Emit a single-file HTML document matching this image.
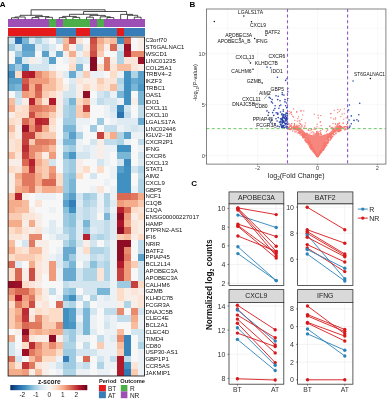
<!DOCTYPE html>
<html><head><meta charset="utf-8"><title>Figure</title>
<style>html,body{margin:0;padding:0;background:#fff;}body{width:387px;height:400px;overflow:hidden;}svg{display:block;}</style>
</head><body>
<svg width="387" height="400" viewBox="0 0 387 400"><g shape-rendering="crispEdges">
<rect x="8.10" y="37.00" width="6.87" height="6.83" fill="#d3e6f0"/>
<rect x="14.92" y="37.00" width="6.87" height="6.83" fill="#2b73b3"/>
<rect x="21.74" y="37.00" width="6.87" height="6.83" fill="#7ab6d6"/>
<rect x="28.56" y="37.00" width="6.87" height="6.83" fill="#dfebf3"/>
<rect x="35.38" y="37.00" width="6.87" height="6.83" fill="#afd4e6"/>
<rect x="42.20" y="37.00" width="6.87" height="6.83" fill="#dfebf3"/>
<rect x="49.02" y="37.00" width="6.87" height="6.83" fill="#f7f7f7"/>
<rect x="55.84" y="37.00" width="6.87" height="6.83" fill="#c1ddeb"/>
<rect x="62.66" y="37.00" width="6.87" height="6.83" fill="#f8bc9f"/>
<rect x="69.48" y="37.00" width="6.87" height="6.83" fill="#cd4d44"/>
<rect x="76.30" y="37.00" width="6.87" height="6.83" fill="#fbe5d8"/>
<rect x="83.12" y="37.00" width="6.87" height="6.83" fill="#f7f7f7"/>
<rect x="89.94" y="37.00" width="6.87" height="6.83" fill="#cd4d44"/>
<rect x="96.76" y="37.00" width="6.87" height="6.83" fill="#f5ac8b"/>
<rect x="103.58" y="37.00" width="6.87" height="6.83" fill="#faccb4"/>
<rect x="110.40" y="37.00" width="6.87" height="6.83" fill="#f8bc9f"/>
<rect x="117.22" y="37.00" width="6.87" height="6.83" fill="#4190c2"/>
<rect x="124.04" y="37.00" width="6.87" height="6.83" fill="#da6954"/>
<rect x="130.86" y="37.00" width="6.87" height="6.83" fill="#f7f7f7"/>
<rect x="137.68" y="37.00" width="6.87" height="6.83" fill="#f9eee7"/>
<rect x="8.10" y="43.78" width="6.87" height="6.83" fill="#9ecbe1"/>
<rect x="14.92" y="43.78" width="6.87" height="6.83" fill="#d3e6f0"/>
<rect x="21.74" y="43.78" width="6.87" height="6.83" fill="#59a1cb"/>
<rect x="28.56" y="43.78" width="6.87" height="6.83" fill="#59a1cb"/>
<rect x="35.38" y="43.78" width="6.87" height="6.83" fill="#dfebf3"/>
<rect x="42.20" y="43.78" width="6.87" height="6.83" fill="#c1ddeb"/>
<rect x="49.02" y="43.78" width="6.87" height="6.83" fill="#dfebf3"/>
<rect x="55.84" y="43.78" width="6.87" height="6.83" fill="#f7f7f7"/>
<rect x="62.66" y="43.78" width="6.87" height="6.83" fill="#f5ac8b"/>
<rect x="69.48" y="43.78" width="6.87" height="6.83" fill="#f9eee7"/>
<rect x="76.30" y="43.78" width="6.87" height="6.83" fill="#c1ddeb"/>
<rect x="83.12" y="43.78" width="6.87" height="6.83" fill="#f9eee7"/>
<rect x="89.94" y="43.78" width="6.87" height="6.83" fill="#d35b4b"/>
<rect x="96.76" y="43.78" width="6.87" height="6.83" fill="#f8bc9f"/>
<rect x="103.58" y="43.78" width="6.87" height="6.83" fill="#f9eee7"/>
<rect x="110.40" y="43.78" width="6.87" height="6.83" fill="#da6954"/>
<rect x="117.22" y="43.78" width="6.87" height="6.83" fill="#d3e6f0"/>
<rect x="124.04" y="43.78" width="6.87" height="6.83" fill="#9d1128"/>
<rect x="130.86" y="43.78" width="6.87" height="6.83" fill="#f7f7f7"/>
<rect x="137.68" y="43.78" width="6.87" height="6.83" fill="#f9eee7"/>
<rect x="8.10" y="50.56" width="6.87" height="6.83" fill="#f7f7f7"/>
<rect x="14.92" y="50.56" width="6.87" height="6.83" fill="#9ecbe1"/>
<rect x="21.74" y="50.56" width="6.87" height="6.83" fill="#69abd0"/>
<rect x="28.56" y="50.56" width="6.87" height="6.83" fill="#69abd0"/>
<rect x="35.38" y="50.56" width="6.87" height="6.83" fill="#f7f7f7"/>
<rect x="42.20" y="50.56" width="6.87" height="6.83" fill="#59a1cb"/>
<rect x="49.02" y="50.56" width="6.87" height="6.83" fill="#ebf1f5"/>
<rect x="55.84" y="50.56" width="6.87" height="6.83" fill="#69abd0"/>
<rect x="62.66" y="50.56" width="6.87" height="6.83" fill="#f9eee7"/>
<rect x="69.48" y="50.56" width="6.87" height="6.83" fill="#f5ac8b"/>
<rect x="76.30" y="50.56" width="6.87" height="6.83" fill="#ebf1f5"/>
<rect x="83.12" y="50.56" width="6.87" height="6.83" fill="#fddcc8"/>
<rect x="89.94" y="50.56" width="6.87" height="6.83" fill="#cd4d44"/>
<rect x="96.76" y="50.56" width="6.87" height="6.83" fill="#faccb4"/>
<rect x="103.58" y="50.56" width="6.87" height="6.83" fill="#f7f7f7"/>
<rect x="110.40" y="50.56" width="6.87" height="6.83" fill="#f7f7f7"/>
<rect x="117.22" y="50.56" width="6.87" height="6.83" fill="#afd4e6"/>
<rect x="124.04" y="50.56" width="6.87" height="6.83" fill="#ab162a"/>
<rect x="130.86" y="50.56" width="6.87" height="6.83" fill="#e88a6d"/>
<rect x="137.68" y="50.56" width="6.87" height="6.83" fill="#e88a6d"/>
<rect x="8.10" y="57.34" width="6.87" height="6.83" fill="#f7f7f7"/>
<rect x="14.92" y="57.34" width="6.87" height="6.83" fill="#59a1cb"/>
<rect x="21.74" y="57.34" width="6.87" height="6.83" fill="#dfebf3"/>
<rect x="28.56" y="57.34" width="6.87" height="6.83" fill="#f9eee7"/>
<rect x="35.38" y="57.34" width="6.87" height="6.83" fill="#ebf1f5"/>
<rect x="42.20" y="57.34" width="6.87" height="6.83" fill="#d3e6f0"/>
<rect x="49.02" y="57.34" width="6.87" height="6.83" fill="#59a1cb"/>
<rect x="55.84" y="57.34" width="6.87" height="6.83" fill="#f7f7f7"/>
<rect x="62.66" y="57.34" width="6.87" height="6.83" fill="#ebf1f5"/>
<rect x="69.48" y="57.34" width="6.87" height="6.83" fill="#fbe5d8"/>
<rect x="76.30" y="57.34" width="6.87" height="6.83" fill="#d3e6f0"/>
<rect x="83.12" y="57.34" width="6.87" height="6.83" fill="#dfebf3"/>
<rect x="89.94" y="57.34" width="6.87" height="6.83" fill="#870a24"/>
<rect x="96.76" y="57.34" width="6.87" height="6.83" fill="#f7f7f7"/>
<rect x="103.58" y="57.34" width="6.87" height="6.83" fill="#e17960"/>
<rect x="110.40" y="57.34" width="6.87" height="6.83" fill="#f9eee7"/>
<rect x="117.22" y="57.34" width="6.87" height="6.83" fill="#afd4e6"/>
<rect x="124.04" y="57.34" width="6.87" height="6.83" fill="#fbe5d8"/>
<rect x="130.86" y="57.34" width="6.87" height="6.83" fill="#fbe5d8"/>
<rect x="137.68" y="57.34" width="6.87" height="6.83" fill="#9d1128"/>
<rect x="8.10" y="64.12" width="6.87" height="6.83" fill="#69abd0"/>
<rect x="14.92" y="64.12" width="6.87" height="6.83" fill="#9ecbe1"/>
<rect x="21.74" y="64.12" width="6.87" height="6.83" fill="#4b98c6"/>
<rect x="28.56" y="64.12" width="6.87" height="6.83" fill="#d3e6f0"/>
<rect x="35.38" y="64.12" width="6.87" height="6.83" fill="#d3e6f0"/>
<rect x="42.20" y="64.12" width="6.87" height="6.83" fill="#d3e6f0"/>
<rect x="49.02" y="64.12" width="6.87" height="6.83" fill="#ebf1f5"/>
<rect x="55.84" y="64.12" width="6.87" height="6.83" fill="#f7f7f7"/>
<rect x="62.66" y="64.12" width="6.87" height="6.83" fill="#f7f7f7"/>
<rect x="69.48" y="64.12" width="6.87" height="6.83" fill="#fddcc8"/>
<rect x="76.30" y="64.12" width="6.87" height="6.83" fill="#7ab6d6"/>
<rect x="83.12" y="64.12" width="6.87" height="6.83" fill="#f7f7f7"/>
<rect x="89.94" y="64.12" width="6.87" height="6.83" fill="#870a24"/>
<rect x="96.76" y="64.12" width="6.87" height="6.83" fill="#fddcc8"/>
<rect x="103.58" y="64.12" width="6.87" height="6.83" fill="#e17960"/>
<rect x="110.40" y="64.12" width="6.87" height="6.83" fill="#fbe5d8"/>
<rect x="117.22" y="64.12" width="6.87" height="6.83" fill="#f8bc9f"/>
<rect x="124.04" y="64.12" width="6.87" height="6.83" fill="#f8bc9f"/>
<rect x="130.86" y="64.12" width="6.87" height="6.83" fill="#fbe5d8"/>
<rect x="137.68" y="64.12" width="6.87" height="6.83" fill="#f9eee7"/>
<rect x="8.10" y="70.90" width="6.87" height="6.83" fill="#3c8abe"/>
<rect x="14.92" y="70.90" width="6.87" height="6.83" fill="#fddcc8"/>
<rect x="21.74" y="70.90" width="6.87" height="6.83" fill="#b7212f"/>
<rect x="28.56" y="70.90" width="6.87" height="6.83" fill="#b2192b"/>
<rect x="35.38" y="70.90" width="6.87" height="6.83" fill="#e88a6d"/>
<rect x="42.20" y="70.90" width="6.87" height="6.83" fill="#f5ac8b"/>
<rect x="49.02" y="70.90" width="6.87" height="6.83" fill="#faccb4"/>
<rect x="55.84" y="70.90" width="6.87" height="6.83" fill="#f9eee7"/>
<rect x="62.66" y="70.90" width="6.87" height="6.83" fill="#dfebf3"/>
<rect x="69.48" y="70.90" width="6.87" height="6.83" fill="#69abd0"/>
<rect x="76.30" y="70.90" width="6.87" height="6.83" fill="#dfebf3"/>
<rect x="83.12" y="70.90" width="6.87" height="6.83" fill="#faccb4"/>
<rect x="89.94" y="70.90" width="6.87" height="6.83" fill="#ebf1f5"/>
<rect x="96.76" y="70.90" width="6.87" height="6.83" fill="#ebf1f5"/>
<rect x="103.58" y="70.90" width="6.87" height="6.83" fill="#f7f7f7"/>
<rect x="110.40" y="70.90" width="6.87" height="6.83" fill="#fddcc8"/>
<rect x="117.22" y="70.90" width="6.87" height="6.83" fill="#ebf1f5"/>
<rect x="124.04" y="70.90" width="6.87" height="6.83" fill="#4190c2"/>
<rect x="130.86" y="70.90" width="6.87" height="6.83" fill="#afd4e6"/>
<rect x="137.68" y="70.90" width="6.87" height="6.83" fill="#59a1cb"/>
<rect x="8.10" y="77.68" width="6.87" height="6.83" fill="#59a1cb"/>
<rect x="14.92" y="77.68" width="6.87" height="6.83" fill="#59a1cb"/>
<rect x="21.74" y="77.68" width="6.87" height="6.83" fill="#d35b4b"/>
<rect x="28.56" y="77.68" width="6.87" height="6.83" fill="#f09b7b"/>
<rect x="35.38" y="77.68" width="6.87" height="6.83" fill="#f09b7b"/>
<rect x="42.20" y="77.68" width="6.87" height="6.83" fill="#f09b7b"/>
<rect x="49.02" y="77.68" width="6.87" height="6.83" fill="#f8bc9f"/>
<rect x="55.84" y="77.68" width="6.87" height="6.83" fill="#fddcc8"/>
<rect x="62.66" y="77.68" width="6.87" height="6.83" fill="#f7f7f7"/>
<rect x="69.48" y="77.68" width="6.87" height="6.83" fill="#dfebf3"/>
<rect x="76.30" y="77.68" width="6.87" height="6.83" fill="#fbe5d8"/>
<rect x="83.12" y="77.68" width="6.87" height="6.83" fill="#f9eee7"/>
<rect x="89.94" y="77.68" width="6.87" height="6.83" fill="#f9eee7"/>
<rect x="96.76" y="77.68" width="6.87" height="6.83" fill="#faccb4"/>
<rect x="103.58" y="77.68" width="6.87" height="6.83" fill="#fbe5d8"/>
<rect x="110.40" y="77.68" width="6.87" height="6.83" fill="#fbe5d8"/>
<rect x="117.22" y="77.68" width="6.87" height="6.83" fill="#afd4e6"/>
<rect x="124.04" y="77.68" width="6.87" height="6.83" fill="#4190c2"/>
<rect x="130.86" y="77.68" width="6.87" height="6.83" fill="#69abd0"/>
<rect x="137.68" y="77.68" width="6.87" height="6.83" fill="#59a1cb"/>
<rect x="8.10" y="84.46" width="6.87" height="6.83" fill="#69abd0"/>
<rect x="14.92" y="84.46" width="6.87" height="6.83" fill="#7ab6d6"/>
<rect x="21.74" y="84.46" width="6.87" height="6.83" fill="#c6413e"/>
<rect x="28.56" y="84.46" width="6.87" height="6.83" fill="#f5ac8b"/>
<rect x="35.38" y="84.46" width="6.87" height="6.83" fill="#d35b4b"/>
<rect x="42.20" y="84.46" width="6.87" height="6.83" fill="#f8bc9f"/>
<rect x="49.02" y="84.46" width="6.87" height="6.83" fill="#f8bc9f"/>
<rect x="55.84" y="84.46" width="6.87" height="6.83" fill="#fddcc8"/>
<rect x="62.66" y="84.46" width="6.87" height="6.83" fill="#f9eee7"/>
<rect x="69.48" y="84.46" width="6.87" height="6.83" fill="#d3e6f0"/>
<rect x="76.30" y="84.46" width="6.87" height="6.83" fill="#f9eee7"/>
<rect x="83.12" y="84.46" width="6.87" height="6.83" fill="#fddcc8"/>
<rect x="89.94" y="84.46" width="6.87" height="6.83" fill="#f9eee7"/>
<rect x="96.76" y="84.46" width="6.87" height="6.83" fill="#fddcc8"/>
<rect x="103.58" y="84.46" width="6.87" height="6.83" fill="#fbe5d8"/>
<rect x="110.40" y="84.46" width="6.87" height="6.83" fill="#f8bc9f"/>
<rect x="117.22" y="84.46" width="6.87" height="6.83" fill="#c1ddeb"/>
<rect x="124.04" y="84.46" width="6.87" height="6.83" fill="#4190c2"/>
<rect x="130.86" y="84.46" width="6.87" height="6.83" fill="#7ab6d6"/>
<rect x="137.68" y="84.46" width="6.87" height="6.83" fill="#4b98c6"/>
<rect x="8.10" y="91.24" width="6.87" height="6.83" fill="#f7f7f7"/>
<rect x="14.92" y="91.24" width="6.87" height="6.83" fill="#c1ddeb"/>
<rect x="21.74" y="91.24" width="6.87" height="6.83" fill="#f09b7b"/>
<rect x="28.56" y="91.24" width="6.87" height="6.83" fill="#f5ac8b"/>
<rect x="35.38" y="91.24" width="6.87" height="6.83" fill="#da6954"/>
<rect x="42.20" y="91.24" width="6.87" height="6.83" fill="#faccb4"/>
<rect x="49.02" y="91.24" width="6.87" height="6.83" fill="#fddcc8"/>
<rect x="55.84" y="91.24" width="6.87" height="6.83" fill="#f9eee7"/>
<rect x="62.66" y="91.24" width="6.87" height="6.83" fill="#d3e6f0"/>
<rect x="69.48" y="91.24" width="6.87" height="6.83" fill="#d3e6f0"/>
<rect x="76.30" y="91.24" width="6.87" height="6.83" fill="#f9eee7"/>
<rect x="83.12" y="91.24" width="6.87" height="6.83" fill="#930e26"/>
<rect x="89.94" y="91.24" width="6.87" height="6.83" fill="#f7f7f7"/>
<rect x="96.76" y="91.24" width="6.87" height="6.83" fill="#d3e6f0"/>
<rect x="103.58" y="91.24" width="6.87" height="6.83" fill="#c1ddeb"/>
<rect x="110.40" y="91.24" width="6.87" height="6.83" fill="#ebf1f5"/>
<rect x="117.22" y="91.24" width="6.87" height="6.83" fill="#7ab6d6"/>
<rect x="124.04" y="91.24" width="6.87" height="6.83" fill="#4190c2"/>
<rect x="130.86" y="91.24" width="6.87" height="6.83" fill="#f7f7f7"/>
<rect x="137.68" y="91.24" width="6.87" height="6.83" fill="#7ab6d6"/>
<rect x="8.10" y="98.02" width="6.87" height="6.83" fill="#f8bc9f"/>
<rect x="14.92" y="98.02" width="6.87" height="6.83" fill="#d3e6f0"/>
<rect x="21.74" y="98.02" width="6.87" height="6.83" fill="#f9eee7"/>
<rect x="28.56" y="98.02" width="6.87" height="6.83" fill="#b7212f"/>
<rect x="35.38" y="98.02" width="6.87" height="6.83" fill="#f5ac8b"/>
<rect x="42.20" y="98.02" width="6.87" height="6.83" fill="#fbe5d8"/>
<rect x="49.02" y="98.02" width="6.87" height="6.83" fill="#b2192b"/>
<rect x="55.84" y="98.02" width="6.87" height="6.83" fill="#f9eee7"/>
<rect x="62.66" y="98.02" width="6.87" height="6.83" fill="#c1ddeb"/>
<rect x="69.48" y="98.02" width="6.87" height="6.83" fill="#7ab6d6"/>
<rect x="76.30" y="98.02" width="6.87" height="6.83" fill="#fddcc8"/>
<rect x="83.12" y="98.02" width="6.87" height="6.83" fill="#f8bc9f"/>
<rect x="89.94" y="98.02" width="6.87" height="6.83" fill="#ebf1f5"/>
<rect x="96.76" y="98.02" width="6.87" height="6.83" fill="#c1ddeb"/>
<rect x="103.58" y="98.02" width="6.87" height="6.83" fill="#d3e6f0"/>
<rect x="110.40" y="98.02" width="6.87" height="6.83" fill="#d3e6f0"/>
<rect x="117.22" y="98.02" width="6.87" height="6.83" fill="#ebf1f5"/>
<rect x="124.04" y="98.02" width="6.87" height="6.83" fill="#4190c2"/>
<rect x="130.86" y="98.02" width="6.87" height="6.83" fill="#f9eee7"/>
<rect x="137.68" y="98.02" width="6.87" height="6.83" fill="#7ab6d6"/>
<rect x="8.10" y="104.80" width="6.87" height="6.83" fill="#f5ac8b"/>
<rect x="14.92" y="104.80" width="6.87" height="6.83" fill="#fbe5d8"/>
<rect x="21.74" y="104.80" width="6.87" height="6.83" fill="#fddcc8"/>
<rect x="28.56" y="104.80" width="6.87" height="6.83" fill="#e17960"/>
<rect x="35.38" y="104.80" width="6.87" height="6.83" fill="#e17960"/>
<rect x="42.20" y="104.80" width="6.87" height="6.83" fill="#e88a6d"/>
<rect x="49.02" y="104.80" width="6.87" height="6.83" fill="#f09b7b"/>
<rect x="55.84" y="104.80" width="6.87" height="6.83" fill="#f9eee7"/>
<rect x="62.66" y="104.80" width="6.87" height="6.83" fill="#afd4e6"/>
<rect x="69.48" y="104.80" width="6.87" height="6.83" fill="#9ecbe1"/>
<rect x="76.30" y="104.80" width="6.87" height="6.83" fill="#faccb4"/>
<rect x="83.12" y="104.80" width="6.87" height="6.83" fill="#c6413e"/>
<rect x="89.94" y="104.80" width="6.87" height="6.83" fill="#f7f7f7"/>
<rect x="96.76" y="104.80" width="6.87" height="6.83" fill="#f7f7f7"/>
<rect x="103.58" y="104.80" width="6.87" height="6.83" fill="#ebf1f5"/>
<rect x="110.40" y="104.80" width="6.87" height="6.83" fill="#d3e6f0"/>
<rect x="117.22" y="104.80" width="6.87" height="6.83" fill="#3c8abe"/>
<rect x="124.04" y="104.80" width="6.87" height="6.83" fill="#d3e6f0"/>
<rect x="130.86" y="104.80" width="6.87" height="6.83" fill="#f7f7f7"/>
<rect x="137.68" y="104.80" width="6.87" height="6.83" fill="#c1ddeb"/>
<rect x="8.10" y="111.58" width="6.87" height="6.83" fill="#f9eee7"/>
<rect x="14.92" y="111.58" width="6.87" height="6.83" fill="#fddcc8"/>
<rect x="21.74" y="111.58" width="6.87" height="6.83" fill="#fddcc8"/>
<rect x="28.56" y="111.58" width="6.87" height="6.83" fill="#cd4d44"/>
<rect x="35.38" y="111.58" width="6.87" height="6.83" fill="#f09b7b"/>
<rect x="42.20" y="111.58" width="6.87" height="6.83" fill="#f5ac8b"/>
<rect x="49.02" y="111.58" width="6.87" height="6.83" fill="#faccb4"/>
<rect x="55.84" y="111.58" width="6.87" height="6.83" fill="#f9eee7"/>
<rect x="62.66" y="111.58" width="6.87" height="6.83" fill="#afd4e6"/>
<rect x="69.48" y="111.58" width="6.87" height="6.83" fill="#9ecbe1"/>
<rect x="76.30" y="111.58" width="6.87" height="6.83" fill="#faccb4"/>
<rect x="83.12" y="111.58" width="6.87" height="6.83" fill="#f8bc9f"/>
<rect x="89.94" y="111.58" width="6.87" height="6.83" fill="#f7f7f7"/>
<rect x="96.76" y="111.58" width="6.87" height="6.83" fill="#f7f7f7"/>
<rect x="103.58" y="111.58" width="6.87" height="6.83" fill="#ebf1f5"/>
<rect x="110.40" y="111.58" width="6.87" height="6.83" fill="#dfebf3"/>
<rect x="117.22" y="111.58" width="6.87" height="6.83" fill="#2b73b3"/>
<rect x="124.04" y="111.58" width="6.87" height="6.83" fill="#c1ddeb"/>
<rect x="130.86" y="111.58" width="6.87" height="6.83" fill="#f7f7f7"/>
<rect x="137.68" y="111.58" width="6.87" height="6.83" fill="#c1ddeb"/>
<rect x="8.10" y="118.36" width="6.87" height="6.83" fill="#fddcc8"/>
<rect x="14.92" y="118.36" width="6.87" height="6.83" fill="#fbe5d8"/>
<rect x="21.74" y="118.36" width="6.87" height="6.83" fill="#da6954"/>
<rect x="28.56" y="118.36" width="6.87" height="6.83" fill="#f09b7b"/>
<rect x="35.38" y="118.36" width="6.87" height="6.83" fill="#b7212f"/>
<rect x="42.20" y="118.36" width="6.87" height="6.83" fill="#bb2b34"/>
<rect x="49.02" y="118.36" width="6.87" height="6.83" fill="#fddcc8"/>
<rect x="55.84" y="118.36" width="6.87" height="6.83" fill="#f7f7f7"/>
<rect x="62.66" y="118.36" width="6.87" height="6.83" fill="#9ecbe1"/>
<rect x="69.48" y="118.36" width="6.87" height="6.83" fill="#9ecbe1"/>
<rect x="76.30" y="118.36" width="6.87" height="6.83" fill="#ebf1f5"/>
<rect x="83.12" y="118.36" width="6.87" height="6.83" fill="#ebf1f5"/>
<rect x="89.94" y="118.36" width="6.87" height="6.83" fill="#f7f7f7"/>
<rect x="96.76" y="118.36" width="6.87" height="6.83" fill="#9ecbe1"/>
<rect x="103.58" y="118.36" width="6.87" height="6.83" fill="#f7f7f7"/>
<rect x="110.40" y="118.36" width="6.87" height="6.83" fill="#ebf1f5"/>
<rect x="117.22" y="118.36" width="6.87" height="6.83" fill="#dfebf3"/>
<rect x="124.04" y="118.36" width="6.87" height="6.83" fill="#dfebf3"/>
<rect x="130.86" y="118.36" width="6.87" height="6.83" fill="#dfebf3"/>
<rect x="137.68" y="118.36" width="6.87" height="6.83" fill="#69abd0"/>
<rect x="8.10" y="125.14" width="6.87" height="6.83" fill="#f8bc9f"/>
<rect x="14.92" y="125.14" width="6.87" height="6.83" fill="#f9eee7"/>
<rect x="21.74" y="125.14" width="6.87" height="6.83" fill="#9d1128"/>
<rect x="28.56" y="125.14" width="6.87" height="6.83" fill="#e88a6d"/>
<rect x="35.38" y="125.14" width="6.87" height="6.83" fill="#c6413e"/>
<rect x="42.20" y="125.14" width="6.87" height="6.83" fill="#f5ac8b"/>
<rect x="49.02" y="125.14" width="6.87" height="6.83" fill="#fbe5d8"/>
<rect x="55.84" y="125.14" width="6.87" height="6.83" fill="#f7f7f7"/>
<rect x="62.66" y="125.14" width="6.87" height="6.83" fill="#7ab6d6"/>
<rect x="69.48" y="125.14" width="6.87" height="6.83" fill="#7ab6d6"/>
<rect x="76.30" y="125.14" width="6.87" height="6.83" fill="#ebf1f5"/>
<rect x="83.12" y="125.14" width="6.87" height="6.83" fill="#f7f7f7"/>
<rect x="89.94" y="125.14" width="6.87" height="6.83" fill="#9ecbe1"/>
<rect x="96.76" y="125.14" width="6.87" height="6.83" fill="#f7f7f7"/>
<rect x="103.58" y="125.14" width="6.87" height="6.83" fill="#c1ddeb"/>
<rect x="110.40" y="125.14" width="6.87" height="6.83" fill="#c1ddeb"/>
<rect x="117.22" y="125.14" width="6.87" height="6.83" fill="#ebf1f5"/>
<rect x="124.04" y="125.14" width="6.87" height="6.83" fill="#dfebf3"/>
<rect x="130.86" y="125.14" width="6.87" height="6.83" fill="#d3e6f0"/>
<rect x="137.68" y="125.14" width="6.87" height="6.83" fill="#dfebf3"/>
<rect x="8.10" y="131.92" width="6.87" height="6.83" fill="#fddcc8"/>
<rect x="14.92" y="131.92" width="6.87" height="6.83" fill="#f9eee7"/>
<rect x="21.74" y="131.92" width="6.87" height="6.83" fill="#c6413e"/>
<rect x="28.56" y="131.92" width="6.87" height="6.83" fill="#c6413e"/>
<rect x="35.38" y="131.92" width="6.87" height="6.83" fill="#f8bc9f"/>
<rect x="42.20" y="131.92" width="6.87" height="6.83" fill="#faccb4"/>
<rect x="49.02" y="131.92" width="6.87" height="6.83" fill="#faccb4"/>
<rect x="55.84" y="131.92" width="6.87" height="6.83" fill="#f7f7f7"/>
<rect x="62.66" y="131.92" width="6.87" height="6.83" fill="#9ecbe1"/>
<rect x="69.48" y="131.92" width="6.87" height="6.83" fill="#59a1cb"/>
<rect x="76.30" y="131.92" width="6.87" height="6.83" fill="#afd4e6"/>
<rect x="83.12" y="131.92" width="6.87" height="6.83" fill="#f7f7f7"/>
<rect x="89.94" y="131.92" width="6.87" height="6.83" fill="#f7f7f7"/>
<rect x="96.76" y="131.92" width="6.87" height="6.83" fill="#c6413e"/>
<rect x="103.58" y="131.92" width="6.87" height="6.83" fill="#fddcc8"/>
<rect x="110.40" y="131.92" width="6.87" height="6.83" fill="#f5ac8b"/>
<rect x="117.22" y="131.92" width="6.87" height="6.83" fill="#afd4e6"/>
<rect x="124.04" y="131.92" width="6.87" height="6.83" fill="#59a1cb"/>
<rect x="130.86" y="131.92" width="6.87" height="6.83" fill="#ebf1f5"/>
<rect x="137.68" y="131.92" width="6.87" height="6.83" fill="#ebf1f5"/>
<rect x="8.10" y="138.70" width="6.87" height="6.83" fill="#fbe5d8"/>
<rect x="14.92" y="138.70" width="6.87" height="6.83" fill="#fddcc8"/>
<rect x="21.74" y="138.70" width="6.87" height="6.83" fill="#c6413e"/>
<rect x="28.56" y="138.70" width="6.87" height="6.83" fill="#faccb4"/>
<rect x="35.38" y="138.70" width="6.87" height="6.83" fill="#e17960"/>
<rect x="42.20" y="138.70" width="6.87" height="6.83" fill="#e17960"/>
<rect x="49.02" y="138.70" width="6.87" height="6.83" fill="#e88a6d"/>
<rect x="55.84" y="138.70" width="6.87" height="6.83" fill="#ebf1f5"/>
<rect x="62.66" y="138.70" width="6.87" height="6.83" fill="#7ab6d6"/>
<rect x="69.48" y="138.70" width="6.87" height="6.83" fill="#7ab6d6"/>
<rect x="76.30" y="138.70" width="6.87" height="6.83" fill="#ebf1f5"/>
<rect x="83.12" y="138.70" width="6.87" height="6.83" fill="#f7f7f7"/>
<rect x="89.94" y="138.70" width="6.87" height="6.83" fill="#d3e6f0"/>
<rect x="96.76" y="138.70" width="6.87" height="6.83" fill="#f9eee7"/>
<rect x="103.58" y="138.70" width="6.87" height="6.83" fill="#c1ddeb"/>
<rect x="110.40" y="138.70" width="6.87" height="6.83" fill="#c1ddeb"/>
<rect x="117.22" y="138.70" width="6.87" height="6.83" fill="#afd4e6"/>
<rect x="124.04" y="138.70" width="6.87" height="6.83" fill="#ebf1f5"/>
<rect x="130.86" y="138.70" width="6.87" height="6.83" fill="#f7f7f7"/>
<rect x="137.68" y="138.70" width="6.87" height="6.83" fill="#c1ddeb"/>
<rect x="8.10" y="145.48" width="6.87" height="6.83" fill="#fbe5d8"/>
<rect x="14.92" y="145.48" width="6.87" height="6.83" fill="#fddcc8"/>
<rect x="21.74" y="145.48" width="6.87" height="6.83" fill="#bb2b34"/>
<rect x="28.56" y="145.48" width="6.87" height="6.83" fill="#e88a6d"/>
<rect x="35.38" y="145.48" width="6.87" height="6.83" fill="#e88a6d"/>
<rect x="42.20" y="145.48" width="6.87" height="6.83" fill="#f09b7b"/>
<rect x="49.02" y="145.48" width="6.87" height="6.83" fill="#f8bc9f"/>
<rect x="55.84" y="145.48" width="6.87" height="6.83" fill="#f7f7f7"/>
<rect x="62.66" y="145.48" width="6.87" height="6.83" fill="#afd4e6"/>
<rect x="69.48" y="145.48" width="6.87" height="6.83" fill="#9ecbe1"/>
<rect x="76.30" y="145.48" width="6.87" height="6.83" fill="#ebf1f5"/>
<rect x="83.12" y="145.48" width="6.87" height="6.83" fill="#dfebf3"/>
<rect x="89.94" y="145.48" width="6.87" height="6.83" fill="#ebf1f5"/>
<rect x="96.76" y="145.48" width="6.87" height="6.83" fill="#f9eee7"/>
<rect x="103.58" y="145.48" width="6.87" height="6.83" fill="#ebf1f5"/>
<rect x="110.40" y="145.48" width="6.87" height="6.83" fill="#ebf1f5"/>
<rect x="117.22" y="145.48" width="6.87" height="6.83" fill="#4190c2"/>
<rect x="124.04" y="145.48" width="6.87" height="6.83" fill="#4190c2"/>
<rect x="130.86" y="145.48" width="6.87" height="6.83" fill="#f7f7f7"/>
<rect x="137.68" y="145.48" width="6.87" height="6.83" fill="#ebf1f5"/>
<rect x="8.10" y="152.26" width="6.87" height="6.83" fill="#f8bc9f"/>
<rect x="14.92" y="152.26" width="6.87" height="6.83" fill="#fbe5d8"/>
<rect x="21.74" y="152.26" width="6.87" height="6.83" fill="#c6413e"/>
<rect x="28.56" y="152.26" width="6.87" height="6.83" fill="#e88a6d"/>
<rect x="35.38" y="152.26" width="6.87" height="6.83" fill="#f8bc9f"/>
<rect x="42.20" y="152.26" width="6.87" height="6.83" fill="#f9eee7"/>
<rect x="49.02" y="152.26" width="6.87" height="6.83" fill="#f09b7b"/>
<rect x="55.84" y="152.26" width="6.87" height="6.83" fill="#f7f7f7"/>
<rect x="62.66" y="152.26" width="6.87" height="6.83" fill="#7ab6d6"/>
<rect x="69.48" y="152.26" width="6.87" height="6.83" fill="#4b98c6"/>
<rect x="76.30" y="152.26" width="6.87" height="6.83" fill="#d3e6f0"/>
<rect x="83.12" y="152.26" width="6.87" height="6.83" fill="#d3e6f0"/>
<rect x="89.94" y="152.26" width="6.87" height="6.83" fill="#ebf1f5"/>
<rect x="96.76" y="152.26" width="6.87" height="6.83" fill="#f9eee7"/>
<rect x="103.58" y="152.26" width="6.87" height="6.83" fill="#ebf1f5"/>
<rect x="110.40" y="152.26" width="6.87" height="6.83" fill="#f7f7f7"/>
<rect x="117.22" y="152.26" width="6.87" height="6.83" fill="#7ab6d6"/>
<rect x="124.04" y="152.26" width="6.87" height="6.83" fill="#7ab6d6"/>
<rect x="130.86" y="152.26" width="6.87" height="6.83" fill="#f7f7f7"/>
<rect x="137.68" y="152.26" width="6.87" height="6.83" fill="#d3e6f0"/>
<rect x="8.10" y="159.04" width="6.87" height="6.83" fill="#f9eee7"/>
<rect x="14.92" y="159.04" width="6.87" height="6.83" fill="#f9eee7"/>
<rect x="21.74" y="159.04" width="6.87" height="6.83" fill="#da6954"/>
<rect x="28.56" y="159.04" width="6.87" height="6.83" fill="#b7212f"/>
<rect x="35.38" y="159.04" width="6.87" height="6.83" fill="#f5ac8b"/>
<rect x="42.20" y="159.04" width="6.87" height="6.83" fill="#faccb4"/>
<rect x="49.02" y="159.04" width="6.87" height="6.83" fill="#d3e6f0"/>
<rect x="55.84" y="159.04" width="6.87" height="6.83" fill="#f7f7f7"/>
<rect x="62.66" y="159.04" width="6.87" height="6.83" fill="#afd4e6"/>
<rect x="69.48" y="159.04" width="6.87" height="6.83" fill="#9ecbe1"/>
<rect x="76.30" y="159.04" width="6.87" height="6.83" fill="#f9eee7"/>
<rect x="83.12" y="159.04" width="6.87" height="6.83" fill="#f7f7f7"/>
<rect x="89.94" y="159.04" width="6.87" height="6.83" fill="#f7f7f7"/>
<rect x="96.76" y="159.04" width="6.87" height="6.83" fill="#d3e6f0"/>
<rect x="103.58" y="159.04" width="6.87" height="6.83" fill="#ebf1f5"/>
<rect x="110.40" y="159.04" width="6.87" height="6.83" fill="#f7f7f7"/>
<rect x="117.22" y="159.04" width="6.87" height="6.83" fill="#d3e6f0"/>
<rect x="124.04" y="159.04" width="6.87" height="6.83" fill="#3c8abe"/>
<rect x="130.86" y="159.04" width="6.87" height="6.83" fill="#f7f7f7"/>
<rect x="137.68" y="159.04" width="6.87" height="6.83" fill="#dfebf3"/>
<rect x="8.10" y="165.82" width="6.87" height="6.83" fill="#fddcc8"/>
<rect x="14.92" y="165.82" width="6.87" height="6.83" fill="#fbe5d8"/>
<rect x="21.74" y="165.82" width="6.87" height="6.83" fill="#f5ac8b"/>
<rect x="28.56" y="165.82" width="6.87" height="6.83" fill="#c13539"/>
<rect x="35.38" y="165.82" width="6.87" height="6.83" fill="#f8bc9f"/>
<rect x="42.20" y="165.82" width="6.87" height="6.83" fill="#faccb4"/>
<rect x="49.02" y="165.82" width="6.87" height="6.83" fill="#f09b7b"/>
<rect x="55.84" y="165.82" width="6.87" height="6.83" fill="#f7f7f7"/>
<rect x="62.66" y="165.82" width="6.87" height="6.83" fill="#afd4e6"/>
<rect x="69.48" y="165.82" width="6.87" height="6.83" fill="#9ecbe1"/>
<rect x="76.30" y="165.82" width="6.87" height="6.83" fill="#f9eee7"/>
<rect x="83.12" y="165.82" width="6.87" height="6.83" fill="#fddcc8"/>
<rect x="89.94" y="165.82" width="6.87" height="6.83" fill="#f7f7f7"/>
<rect x="96.76" y="165.82" width="6.87" height="6.83" fill="#fddcc8"/>
<rect x="103.58" y="165.82" width="6.87" height="6.83" fill="#f7f7f7"/>
<rect x="110.40" y="165.82" width="6.87" height="6.83" fill="#ebf1f5"/>
<rect x="117.22" y="165.82" width="6.87" height="6.83" fill="#59a1cb"/>
<rect x="124.04" y="165.82" width="6.87" height="6.83" fill="#4190c2"/>
<rect x="130.86" y="165.82" width="6.87" height="6.83" fill="#d3e6f0"/>
<rect x="137.68" y="165.82" width="6.87" height="6.83" fill="#afd4e6"/>
<rect x="8.10" y="172.60" width="6.87" height="6.83" fill="#f9eee7"/>
<rect x="14.92" y="172.60" width="6.87" height="6.83" fill="#f5ac8b"/>
<rect x="21.74" y="172.60" width="6.87" height="6.83" fill="#e17960"/>
<rect x="28.56" y="172.60" width="6.87" height="6.83" fill="#e17960"/>
<rect x="35.38" y="172.60" width="6.87" height="6.83" fill="#f5ac8b"/>
<rect x="42.20" y="172.60" width="6.87" height="6.83" fill="#faccb4"/>
<rect x="49.02" y="172.60" width="6.87" height="6.83" fill="#e88a6d"/>
<rect x="55.84" y="172.60" width="6.87" height="6.83" fill="#fddcc8"/>
<rect x="62.66" y="172.60" width="6.87" height="6.83" fill="#9ecbe1"/>
<rect x="69.48" y="172.60" width="6.87" height="6.83" fill="#8cc1dc"/>
<rect x="76.30" y="172.60" width="6.87" height="6.83" fill="#fddcc8"/>
<rect x="83.12" y="172.60" width="6.87" height="6.83" fill="#f7f7f7"/>
<rect x="89.94" y="172.60" width="6.87" height="6.83" fill="#d3e6f0"/>
<rect x="96.76" y="172.60" width="6.87" height="6.83" fill="#f7f7f7"/>
<rect x="103.58" y="172.60" width="6.87" height="6.83" fill="#f7f7f7"/>
<rect x="110.40" y="172.60" width="6.87" height="6.83" fill="#ebf1f5"/>
<rect x="117.22" y="172.60" width="6.87" height="6.83" fill="#4190c2"/>
<rect x="124.04" y="172.60" width="6.87" height="6.83" fill="#4190c2"/>
<rect x="130.86" y="172.60" width="6.87" height="6.83" fill="#f7f7f7"/>
<rect x="137.68" y="172.60" width="6.87" height="6.83" fill="#c1ddeb"/>
<rect x="8.10" y="179.38" width="6.87" height="6.83" fill="#f9eee7"/>
<rect x="14.92" y="179.38" width="6.87" height="6.83" fill="#f8bc9f"/>
<rect x="21.74" y="179.38" width="6.87" height="6.83" fill="#e17960"/>
<rect x="28.56" y="179.38" width="6.87" height="6.83" fill="#e17960"/>
<rect x="35.38" y="179.38" width="6.87" height="6.83" fill="#f5ac8b"/>
<rect x="42.20" y="179.38" width="6.87" height="6.83" fill="#da6954"/>
<rect x="49.02" y="179.38" width="6.87" height="6.83" fill="#da6954"/>
<rect x="55.84" y="179.38" width="6.87" height="6.83" fill="#fddcc8"/>
<rect x="62.66" y="179.38" width="6.87" height="6.83" fill="#9ecbe1"/>
<rect x="69.48" y="179.38" width="6.87" height="6.83" fill="#7ab6d6"/>
<rect x="76.30" y="179.38" width="6.87" height="6.83" fill="#f7f7f7"/>
<rect x="83.12" y="179.38" width="6.87" height="6.83" fill="#f7f7f7"/>
<rect x="89.94" y="179.38" width="6.87" height="6.83" fill="#f7f7f7"/>
<rect x="96.76" y="179.38" width="6.87" height="6.83" fill="#f7f7f7"/>
<rect x="103.58" y="179.38" width="6.87" height="6.83" fill="#ebf1f5"/>
<rect x="110.40" y="179.38" width="6.87" height="6.83" fill="#f7f7f7"/>
<rect x="117.22" y="179.38" width="6.87" height="6.83" fill="#4190c2"/>
<rect x="124.04" y="179.38" width="6.87" height="6.83" fill="#4190c2"/>
<rect x="130.86" y="179.38" width="6.87" height="6.83" fill="#f7f7f7"/>
<rect x="137.68" y="179.38" width="6.87" height="6.83" fill="#afd4e6"/>
<rect x="8.10" y="186.16" width="6.87" height="6.83" fill="#f9eee7"/>
<rect x="14.92" y="186.16" width="6.87" height="6.83" fill="#f5ac8b"/>
<rect x="21.74" y="186.16" width="6.87" height="6.83" fill="#f09b7b"/>
<rect x="28.56" y="186.16" width="6.87" height="6.83" fill="#e17960"/>
<rect x="35.38" y="186.16" width="6.87" height="6.83" fill="#faccb4"/>
<rect x="42.20" y="186.16" width="6.87" height="6.83" fill="#f5ac8b"/>
<rect x="49.02" y="186.16" width="6.87" height="6.83" fill="#f5ac8b"/>
<rect x="55.84" y="186.16" width="6.87" height="6.83" fill="#f8bc9f"/>
<rect x="62.66" y="186.16" width="6.87" height="6.83" fill="#9ecbe1"/>
<rect x="69.48" y="186.16" width="6.87" height="6.83" fill="#7ab6d6"/>
<rect x="76.30" y="186.16" width="6.87" height="6.83" fill="#f7f7f7"/>
<rect x="83.12" y="186.16" width="6.87" height="6.83" fill="#f7f7f7"/>
<rect x="89.94" y="186.16" width="6.87" height="6.83" fill="#ebf1f5"/>
<rect x="96.76" y="186.16" width="6.87" height="6.83" fill="#fbe5d8"/>
<rect x="103.58" y="186.16" width="6.87" height="6.83" fill="#f7f7f7"/>
<rect x="110.40" y="186.16" width="6.87" height="6.83" fill="#ebf1f5"/>
<rect x="117.22" y="186.16" width="6.87" height="6.83" fill="#4190c2"/>
<rect x="124.04" y="186.16" width="6.87" height="6.83" fill="#4190c2"/>
<rect x="130.86" y="186.16" width="6.87" height="6.83" fill="#ebf1f5"/>
<rect x="137.68" y="186.16" width="6.87" height="6.83" fill="#afd4e6"/>
<rect x="8.10" y="192.94" width="6.87" height="6.83" fill="#f8bc9f"/>
<rect x="14.92" y="192.94" width="6.87" height="6.83" fill="#b7212f"/>
<rect x="21.74" y="192.94" width="6.87" height="6.83" fill="#f9eee7"/>
<rect x="28.56" y="192.94" width="6.87" height="6.83" fill="#f7f7f7"/>
<rect x="35.38" y="192.94" width="6.87" height="6.83" fill="#ebf1f5"/>
<rect x="42.20" y="192.94" width="6.87" height="6.83" fill="#ebf1f5"/>
<rect x="49.02" y="192.94" width="6.87" height="6.83" fill="#ebf1f5"/>
<rect x="55.84" y="192.94" width="6.87" height="6.83" fill="#f7f7f7"/>
<rect x="62.66" y="192.94" width="6.87" height="6.83" fill="#7ab6d6"/>
<rect x="69.48" y="192.94" width="6.87" height="6.83" fill="#59a1cb"/>
<rect x="76.30" y="192.94" width="6.87" height="6.83" fill="#d3e6f0"/>
<rect x="83.12" y="192.94" width="6.87" height="6.83" fill="#9ecbe1"/>
<rect x="89.94" y="192.94" width="6.87" height="6.83" fill="#afd4e6"/>
<rect x="96.76" y="192.94" width="6.87" height="6.83" fill="#ebf1f5"/>
<rect x="103.58" y="192.94" width="6.87" height="6.83" fill="#afd4e6"/>
<rect x="110.40" y="192.94" width="6.87" height="6.83" fill="#ebf1f5"/>
<rect x="117.22" y="192.94" width="6.87" height="6.83" fill="#da6954"/>
<rect x="124.04" y="192.94" width="6.87" height="6.83" fill="#da6954"/>
<rect x="130.86" y="192.94" width="6.87" height="6.83" fill="#e17960"/>
<rect x="137.68" y="192.94" width="6.87" height="6.83" fill="#f5ac8b"/>
<rect x="8.10" y="199.72" width="6.87" height="6.83" fill="#f5ac8b"/>
<rect x="14.92" y="199.72" width="6.87" height="6.83" fill="#f5ac8b"/>
<rect x="21.74" y="199.72" width="6.87" height="6.83" fill="#f8bc9f"/>
<rect x="28.56" y="199.72" width="6.87" height="6.83" fill="#f7f7f7"/>
<rect x="35.38" y="199.72" width="6.87" height="6.83" fill="#fbe5d8"/>
<rect x="42.20" y="199.72" width="6.87" height="6.83" fill="#f7f7f7"/>
<rect x="49.02" y="199.72" width="6.87" height="6.83" fill="#f7f7f7"/>
<rect x="55.84" y="199.72" width="6.87" height="6.83" fill="#f7f7f7"/>
<rect x="62.66" y="199.72" width="6.87" height="6.83" fill="#59a1cb"/>
<rect x="69.48" y="199.72" width="6.87" height="6.83" fill="#347fb9"/>
<rect x="76.30" y="199.72" width="6.87" height="6.83" fill="#dfebf3"/>
<rect x="83.12" y="199.72" width="6.87" height="6.83" fill="#afd4e6"/>
<rect x="89.94" y="199.72" width="6.87" height="6.83" fill="#c1ddeb"/>
<rect x="96.76" y="199.72" width="6.87" height="6.83" fill="#ebf1f5"/>
<rect x="103.58" y="199.72" width="6.87" height="6.83" fill="#afd4e6"/>
<rect x="110.40" y="199.72" width="6.87" height="6.83" fill="#dfebf3"/>
<rect x="117.22" y="199.72" width="6.87" height="6.83" fill="#f09b7b"/>
<rect x="124.04" y="199.72" width="6.87" height="6.83" fill="#f5ac8b"/>
<rect x="130.86" y="199.72" width="6.87" height="6.83" fill="#f5ac8b"/>
<rect x="137.68" y="199.72" width="6.87" height="6.83" fill="#faccb4"/>
<rect x="8.10" y="206.50" width="6.87" height="6.83" fill="#f5ac8b"/>
<rect x="14.92" y="206.50" width="6.87" height="6.83" fill="#f8bc9f"/>
<rect x="21.74" y="206.50" width="6.87" height="6.83" fill="#f8bc9f"/>
<rect x="28.56" y="206.50" width="6.87" height="6.83" fill="#f9eee7"/>
<rect x="35.38" y="206.50" width="6.87" height="6.83" fill="#f7f7f7"/>
<rect x="42.20" y="206.50" width="6.87" height="6.83" fill="#f7f7f7"/>
<rect x="49.02" y="206.50" width="6.87" height="6.83" fill="#ebf1f5"/>
<rect x="55.84" y="206.50" width="6.87" height="6.83" fill="#f7f7f7"/>
<rect x="62.66" y="206.50" width="6.87" height="6.83" fill="#8cc1dc"/>
<rect x="69.48" y="206.50" width="6.87" height="6.83" fill="#4190c2"/>
<rect x="76.30" y="206.50" width="6.87" height="6.83" fill="#d3e6f0"/>
<rect x="83.12" y="206.50" width="6.87" height="6.83" fill="#c1ddeb"/>
<rect x="89.94" y="206.50" width="6.87" height="6.83" fill="#d3e6f0"/>
<rect x="96.76" y="206.50" width="6.87" height="6.83" fill="#ebf1f5"/>
<rect x="103.58" y="206.50" width="6.87" height="6.83" fill="#c1ddeb"/>
<rect x="110.40" y="206.50" width="6.87" height="6.83" fill="#ebf1f5"/>
<rect x="117.22" y="206.50" width="6.87" height="6.83" fill="#b7212f"/>
<rect x="124.04" y="206.50" width="6.87" height="6.83" fill="#da6954"/>
<rect x="130.86" y="206.50" width="6.87" height="6.83" fill="#fddcc8"/>
<rect x="137.68" y="206.50" width="6.87" height="6.83" fill="#fbe5d8"/>
<rect x="8.10" y="213.28" width="6.87" height="6.83" fill="#faccb4"/>
<rect x="14.92" y="213.28" width="6.87" height="6.83" fill="#faccb4"/>
<rect x="21.74" y="213.28" width="6.87" height="6.83" fill="#fbe5d8"/>
<rect x="28.56" y="213.28" width="6.87" height="6.83" fill="#fbe5d8"/>
<rect x="35.38" y="213.28" width="6.87" height="6.83" fill="#f9eee7"/>
<rect x="42.20" y="213.28" width="6.87" height="6.83" fill="#f7f7f7"/>
<rect x="49.02" y="213.28" width="6.87" height="6.83" fill="#f7f7f7"/>
<rect x="55.84" y="213.28" width="6.87" height="6.83" fill="#f7f7f7"/>
<rect x="62.66" y="213.28" width="6.87" height="6.83" fill="#9ecbe1"/>
<rect x="69.48" y="213.28" width="6.87" height="6.83" fill="#8cc1dc"/>
<rect x="76.30" y="213.28" width="6.87" height="6.83" fill="#d3e6f0"/>
<rect x="83.12" y="213.28" width="6.87" height="6.83" fill="#c1ddeb"/>
<rect x="89.94" y="213.28" width="6.87" height="6.83" fill="#d3e6f0"/>
<rect x="96.76" y="213.28" width="6.87" height="6.83" fill="#f7f7f7"/>
<rect x="103.58" y="213.28" width="6.87" height="6.83" fill="#7ab6d6"/>
<rect x="110.40" y="213.28" width="6.87" height="6.83" fill="#dfebf3"/>
<rect x="117.22" y="213.28" width="6.87" height="6.83" fill="#8e0d25"/>
<rect x="124.04" y="213.28" width="6.87" height="6.83" fill="#f09b7b"/>
<rect x="130.86" y="213.28" width="6.87" height="6.83" fill="#f9eee7"/>
<rect x="137.68" y="213.28" width="6.87" height="6.83" fill="#fddcc8"/>
<rect x="8.10" y="220.06" width="6.87" height="6.83" fill="#f5ac8b"/>
<rect x="14.92" y="220.06" width="6.87" height="6.83" fill="#f5ac8b"/>
<rect x="21.74" y="220.06" width="6.87" height="6.83" fill="#f9eee7"/>
<rect x="28.56" y="220.06" width="6.87" height="6.83" fill="#f5ac8b"/>
<rect x="35.38" y="220.06" width="6.87" height="6.83" fill="#f9eee7"/>
<rect x="42.20" y="220.06" width="6.87" height="6.83" fill="#f7f7f7"/>
<rect x="49.02" y="220.06" width="6.87" height="6.83" fill="#dfebf3"/>
<rect x="55.84" y="220.06" width="6.87" height="6.83" fill="#f7f7f7"/>
<rect x="62.66" y="220.06" width="6.87" height="6.83" fill="#9ecbe1"/>
<rect x="69.48" y="220.06" width="6.87" height="6.83" fill="#8cc1dc"/>
<rect x="76.30" y="220.06" width="6.87" height="6.83" fill="#dfebf3"/>
<rect x="83.12" y="220.06" width="6.87" height="6.83" fill="#7ab6d6"/>
<rect x="89.94" y="220.06" width="6.87" height="6.83" fill="#d3e6f0"/>
<rect x="96.76" y="220.06" width="6.87" height="6.83" fill="#d3e6f0"/>
<rect x="103.58" y="220.06" width="6.87" height="6.83" fill="#c1ddeb"/>
<rect x="110.40" y="220.06" width="6.87" height="6.83" fill="#dfebf3"/>
<rect x="117.22" y="220.06" width="6.87" height="6.83" fill="#ab162a"/>
<rect x="124.04" y="220.06" width="6.87" height="6.83" fill="#f5ac8b"/>
<rect x="130.86" y="220.06" width="6.87" height="6.83" fill="#fbe5d8"/>
<rect x="137.68" y="220.06" width="6.87" height="6.83" fill="#f9eee7"/>
<rect x="8.10" y="226.84" width="6.87" height="6.83" fill="#fddcc8"/>
<rect x="14.92" y="226.84" width="6.87" height="6.83" fill="#faccb4"/>
<rect x="21.74" y="226.84" width="6.87" height="6.83" fill="#fbe5d8"/>
<rect x="28.56" y="226.84" width="6.87" height="6.83" fill="#f9eee7"/>
<rect x="35.38" y="226.84" width="6.87" height="6.83" fill="#fbe5d8"/>
<rect x="42.20" y="226.84" width="6.87" height="6.83" fill="#ebf1f5"/>
<rect x="49.02" y="226.84" width="6.87" height="6.83" fill="#dfebf3"/>
<rect x="55.84" y="226.84" width="6.87" height="6.83" fill="#ebf1f5"/>
<rect x="62.66" y="226.84" width="6.87" height="6.83" fill="#afd4e6"/>
<rect x="69.48" y="226.84" width="6.87" height="6.83" fill="#9ecbe1"/>
<rect x="76.30" y="226.84" width="6.87" height="6.83" fill="#dfebf3"/>
<rect x="83.12" y="226.84" width="6.87" height="6.83" fill="#9ecbe1"/>
<rect x="89.94" y="226.84" width="6.87" height="6.83" fill="#dfebf3"/>
<rect x="96.76" y="226.84" width="6.87" height="6.83" fill="#d3e6f0"/>
<rect x="103.58" y="226.84" width="6.87" height="6.83" fill="#c1ddeb"/>
<rect x="110.40" y="226.84" width="6.87" height="6.83" fill="#dfebf3"/>
<rect x="117.22" y="226.84" width="6.87" height="6.83" fill="#8e0d25"/>
<rect x="124.04" y="226.84" width="6.87" height="6.83" fill="#da6954"/>
<rect x="130.86" y="226.84" width="6.87" height="6.83" fill="#fbe5d8"/>
<rect x="137.68" y="226.84" width="6.87" height="6.83" fill="#f9eee7"/>
<rect x="8.10" y="233.62" width="6.87" height="6.83" fill="#fbe5d8"/>
<rect x="14.92" y="233.62" width="6.87" height="6.83" fill="#fbe5d8"/>
<rect x="21.74" y="233.62" width="6.87" height="6.83" fill="#f9eee7"/>
<rect x="28.56" y="233.62" width="6.87" height="6.83" fill="#e88a6d"/>
<rect x="35.38" y="233.62" width="6.87" height="6.83" fill="#e88a6d"/>
<rect x="42.20" y="233.62" width="6.87" height="6.83" fill="#f7f7f7"/>
<rect x="49.02" y="233.62" width="6.87" height="6.83" fill="#ebf1f5"/>
<rect x="55.84" y="233.62" width="6.87" height="6.83" fill="#d3e6f0"/>
<rect x="62.66" y="233.62" width="6.87" height="6.83" fill="#d3e6f0"/>
<rect x="69.48" y="233.62" width="6.87" height="6.83" fill="#9ecbe1"/>
<rect x="76.30" y="233.62" width="6.87" height="6.83" fill="#dfebf3"/>
<rect x="83.12" y="233.62" width="6.87" height="6.83" fill="#b7212f"/>
<rect x="89.94" y="233.62" width="6.87" height="6.83" fill="#c1ddeb"/>
<rect x="96.76" y="233.62" width="6.87" height="6.83" fill="#afd4e6"/>
<rect x="103.58" y="233.62" width="6.87" height="6.83" fill="#c1ddeb"/>
<rect x="110.40" y="233.62" width="6.87" height="6.83" fill="#dfebf3"/>
<rect x="117.22" y="233.62" width="6.87" height="6.83" fill="#faccb4"/>
<rect x="124.04" y="233.62" width="6.87" height="6.83" fill="#f8bc9f"/>
<rect x="130.86" y="233.62" width="6.87" height="6.83" fill="#f9eee7"/>
<rect x="137.68" y="233.62" width="6.87" height="6.83" fill="#fddcc8"/>
<rect x="8.10" y="240.40" width="6.87" height="6.83" fill="#f8bc9f"/>
<rect x="14.92" y="240.40" width="6.87" height="6.83" fill="#f7f7f7"/>
<rect x="21.74" y="240.40" width="6.87" height="6.83" fill="#d3e6f0"/>
<rect x="28.56" y="240.40" width="6.87" height="6.83" fill="#e17960"/>
<rect x="35.38" y="240.40" width="6.87" height="6.83" fill="#f9eee7"/>
<rect x="42.20" y="240.40" width="6.87" height="6.83" fill="#f9eee7"/>
<rect x="49.02" y="240.40" width="6.87" height="6.83" fill="#f7f7f7"/>
<rect x="55.84" y="240.40" width="6.87" height="6.83" fill="#f7f7f7"/>
<rect x="62.66" y="240.40" width="6.87" height="6.83" fill="#afd4e6"/>
<rect x="69.48" y="240.40" width="6.87" height="6.83" fill="#8cc1dc"/>
<rect x="76.30" y="240.40" width="6.87" height="6.83" fill="#d3e6f0"/>
<rect x="83.12" y="240.40" width="6.87" height="6.83" fill="#f9eee7"/>
<rect x="89.94" y="240.40" width="6.87" height="6.83" fill="#d3e6f0"/>
<rect x="96.76" y="240.40" width="6.87" height="6.83" fill="#f7f7f7"/>
<rect x="103.58" y="240.40" width="6.87" height="6.83" fill="#d3e6f0"/>
<rect x="110.40" y="240.40" width="6.87" height="6.83" fill="#ebf1f5"/>
<rect x="117.22" y="240.40" width="6.87" height="6.83" fill="#8e0d25"/>
<rect x="124.04" y="240.40" width="6.87" height="6.83" fill="#8e0d25"/>
<rect x="130.86" y="240.40" width="6.87" height="6.83" fill="#f7f7f7"/>
<rect x="137.68" y="240.40" width="6.87" height="6.83" fill="#c1ddeb"/>
<rect x="8.10" y="247.18" width="6.87" height="6.83" fill="#f5ac8b"/>
<rect x="14.92" y="247.18" width="6.87" height="6.83" fill="#fddcc8"/>
<rect x="21.74" y="247.18" width="6.87" height="6.83" fill="#fbe5d8"/>
<rect x="28.56" y="247.18" width="6.87" height="6.83" fill="#f8bc9f"/>
<rect x="35.38" y="247.18" width="6.87" height="6.83" fill="#f8bc9f"/>
<rect x="42.20" y="247.18" width="6.87" height="6.83" fill="#f9eee7"/>
<rect x="49.02" y="247.18" width="6.87" height="6.83" fill="#f7f7f7"/>
<rect x="55.84" y="247.18" width="6.87" height="6.83" fill="#ebf1f5"/>
<rect x="62.66" y="247.18" width="6.87" height="6.83" fill="#69abd0"/>
<rect x="69.48" y="247.18" width="6.87" height="6.83" fill="#69abd0"/>
<rect x="76.30" y="247.18" width="6.87" height="6.83" fill="#ebf1f5"/>
<rect x="83.12" y="247.18" width="6.87" height="6.83" fill="#fddcc8"/>
<rect x="89.94" y="247.18" width="6.87" height="6.83" fill="#afd4e6"/>
<rect x="96.76" y="247.18" width="6.87" height="6.83" fill="#afd4e6"/>
<rect x="103.58" y="247.18" width="6.87" height="6.83" fill="#c1ddeb"/>
<rect x="110.40" y="247.18" width="6.87" height="6.83" fill="#ebf1f5"/>
<rect x="117.22" y="247.18" width="6.87" height="6.83" fill="#8e0d25"/>
<rect x="124.04" y="247.18" width="6.87" height="6.83" fill="#e88a6d"/>
<rect x="130.86" y="247.18" width="6.87" height="6.83" fill="#f7f7f7"/>
<rect x="137.68" y="247.18" width="6.87" height="6.83" fill="#c1ddeb"/>
<rect x="8.10" y="253.96" width="6.87" height="6.83" fill="#fddcc8"/>
<rect x="14.92" y="253.96" width="6.87" height="6.83" fill="#faccb4"/>
<rect x="21.74" y="253.96" width="6.87" height="6.83" fill="#faccb4"/>
<rect x="28.56" y="253.96" width="6.87" height="6.83" fill="#faccb4"/>
<rect x="35.38" y="253.96" width="6.87" height="6.83" fill="#fddcc8"/>
<rect x="42.20" y="253.96" width="6.87" height="6.83" fill="#f9eee7"/>
<rect x="49.02" y="253.96" width="6.87" height="6.83" fill="#ebf1f5"/>
<rect x="55.84" y="253.96" width="6.87" height="6.83" fill="#dfebf3"/>
<rect x="62.66" y="253.96" width="6.87" height="6.83" fill="#69abd0"/>
<rect x="69.48" y="253.96" width="6.87" height="6.83" fill="#9ecbe1"/>
<rect x="76.30" y="253.96" width="6.87" height="6.83" fill="#ebf1f5"/>
<rect x="83.12" y="253.96" width="6.87" height="6.83" fill="#ebf1f5"/>
<rect x="89.94" y="253.96" width="6.87" height="6.83" fill="#c1ddeb"/>
<rect x="96.76" y="253.96" width="6.87" height="6.83" fill="#d3e6f0"/>
<rect x="103.58" y="253.96" width="6.87" height="6.83" fill="#c1ddeb"/>
<rect x="110.40" y="253.96" width="6.87" height="6.83" fill="#ebf1f5"/>
<rect x="117.22" y="253.96" width="6.87" height="6.83" fill="#8e0d25"/>
<rect x="124.04" y="253.96" width="6.87" height="6.83" fill="#e17960"/>
<rect x="130.86" y="253.96" width="6.87" height="6.83" fill="#f7f7f7"/>
<rect x="137.68" y="253.96" width="6.87" height="6.83" fill="#59a1cb"/>
<rect x="8.10" y="260.74" width="6.87" height="6.83" fill="#da6954"/>
<rect x="14.92" y="260.74" width="6.87" height="6.83" fill="#dfebf3"/>
<rect x="21.74" y="260.74" width="6.87" height="6.83" fill="#f7f7f7"/>
<rect x="28.56" y="260.74" width="6.87" height="6.83" fill="#f5ac8b"/>
<rect x="35.38" y="260.74" width="6.87" height="6.83" fill="#fbe5d8"/>
<rect x="42.20" y="260.74" width="6.87" height="6.83" fill="#f9eee7"/>
<rect x="49.02" y="260.74" width="6.87" height="6.83" fill="#f09b7b"/>
<rect x="55.84" y="260.74" width="6.87" height="6.83" fill="#dfebf3"/>
<rect x="62.66" y="260.74" width="6.87" height="6.83" fill="#afd4e6"/>
<rect x="69.48" y="260.74" width="6.87" height="6.83" fill="#7ab6d6"/>
<rect x="76.30" y="260.74" width="6.87" height="6.83" fill="#f7f7f7"/>
<rect x="83.12" y="260.74" width="6.87" height="6.83" fill="#d3e6f0"/>
<rect x="89.94" y="260.74" width="6.87" height="6.83" fill="#8cc1dc"/>
<rect x="96.76" y="260.74" width="6.87" height="6.83" fill="#c1ddeb"/>
<rect x="103.58" y="260.74" width="6.87" height="6.83" fill="#afd4e6"/>
<rect x="110.40" y="260.74" width="6.87" height="6.83" fill="#ebf1f5"/>
<rect x="117.22" y="260.74" width="6.87" height="6.83" fill="#b2192b"/>
<rect x="124.04" y="260.74" width="6.87" height="6.83" fill="#f09b7b"/>
<rect x="130.86" y="260.74" width="6.87" height="6.83" fill="#faccb4"/>
<rect x="137.68" y="260.74" width="6.87" height="6.83" fill="#d3e6f0"/>
<rect x="8.10" y="267.52" width="6.87" height="6.83" fill="#fddcc8"/>
<rect x="14.92" y="267.52" width="6.87" height="6.83" fill="#da6954"/>
<rect x="21.74" y="267.52" width="6.87" height="6.83" fill="#f9eee7"/>
<rect x="28.56" y="267.52" width="6.87" height="6.83" fill="#cd4d44"/>
<rect x="35.38" y="267.52" width="6.87" height="6.83" fill="#fbe5d8"/>
<rect x="42.20" y="267.52" width="6.87" height="6.83" fill="#f9eee7"/>
<rect x="49.02" y="267.52" width="6.87" height="6.83" fill="#f09b7b"/>
<rect x="55.84" y="267.52" width="6.87" height="6.83" fill="#ebf1f5"/>
<rect x="62.66" y="267.52" width="6.87" height="6.83" fill="#69abd0"/>
<rect x="69.48" y="267.52" width="6.87" height="6.83" fill="#69abd0"/>
<rect x="76.30" y="267.52" width="6.87" height="6.83" fill="#d3e6f0"/>
<rect x="83.12" y="267.52" width="6.87" height="6.83" fill="#afd4e6"/>
<rect x="89.94" y="267.52" width="6.87" height="6.83" fill="#afd4e6"/>
<rect x="96.76" y="267.52" width="6.87" height="6.83" fill="#fbe5d8"/>
<rect x="103.58" y="267.52" width="6.87" height="6.83" fill="#afd4e6"/>
<rect x="110.40" y="267.52" width="6.87" height="6.83" fill="#ebf1f5"/>
<rect x="117.22" y="267.52" width="6.87" height="6.83" fill="#c6413e"/>
<rect x="124.04" y="267.52" width="6.87" height="6.83" fill="#f09b7b"/>
<rect x="130.86" y="267.52" width="6.87" height="6.83" fill="#f7f7f7"/>
<rect x="137.68" y="267.52" width="6.87" height="6.83" fill="#d3e6f0"/>
<rect x="8.10" y="274.30" width="6.87" height="6.83" fill="#fddcc8"/>
<rect x="14.92" y="274.30" width="6.87" height="6.83" fill="#da6954"/>
<rect x="21.74" y="274.30" width="6.87" height="6.83" fill="#f9eee7"/>
<rect x="28.56" y="274.30" width="6.87" height="6.83" fill="#cd4d44"/>
<rect x="35.38" y="274.30" width="6.87" height="6.83" fill="#fbe5d8"/>
<rect x="42.20" y="274.30" width="6.87" height="6.83" fill="#f7f7f7"/>
<rect x="49.02" y="274.30" width="6.87" height="6.83" fill="#f09b7b"/>
<rect x="55.84" y="274.30" width="6.87" height="6.83" fill="#ebf1f5"/>
<rect x="62.66" y="274.30" width="6.87" height="6.83" fill="#69abd0"/>
<rect x="69.48" y="274.30" width="6.87" height="6.83" fill="#69abd0"/>
<rect x="76.30" y="274.30" width="6.87" height="6.83" fill="#d3e6f0"/>
<rect x="83.12" y="274.30" width="6.87" height="6.83" fill="#afd4e6"/>
<rect x="89.94" y="274.30" width="6.87" height="6.83" fill="#afd4e6"/>
<rect x="96.76" y="274.30" width="6.87" height="6.83" fill="#fbe5d8"/>
<rect x="103.58" y="274.30" width="6.87" height="6.83" fill="#afd4e6"/>
<rect x="110.40" y="274.30" width="6.87" height="6.83" fill="#ebf1f5"/>
<rect x="117.22" y="274.30" width="6.87" height="6.83" fill="#c6413e"/>
<rect x="124.04" y="274.30" width="6.87" height="6.83" fill="#f09b7b"/>
<rect x="130.86" y="274.30" width="6.87" height="6.83" fill="#f7f7f7"/>
<rect x="137.68" y="274.30" width="6.87" height="6.83" fill="#d3e6f0"/>
<rect x="8.10" y="281.08" width="6.87" height="6.83" fill="#930e26"/>
<rect x="14.92" y="281.08" width="6.87" height="6.83" fill="#9d1128"/>
<rect x="21.74" y="281.08" width="6.87" height="6.83" fill="#fddcc8"/>
<rect x="28.56" y="281.08" width="6.87" height="6.83" fill="#fbe5d8"/>
<rect x="35.38" y="281.08" width="6.87" height="6.83" fill="#f9eee7"/>
<rect x="42.20" y="281.08" width="6.87" height="6.83" fill="#f7f7f7"/>
<rect x="49.02" y="281.08" width="6.87" height="6.83" fill="#f7f7f7"/>
<rect x="55.84" y="281.08" width="6.87" height="6.83" fill="#f7f7f7"/>
<rect x="62.66" y="281.08" width="6.87" height="6.83" fill="#c1ddeb"/>
<rect x="69.48" y="281.08" width="6.87" height="6.83" fill="#d3e6f0"/>
<rect x="76.30" y="281.08" width="6.87" height="6.83" fill="#d3e6f0"/>
<rect x="83.12" y="281.08" width="6.87" height="6.83" fill="#d3e6f0"/>
<rect x="89.94" y="281.08" width="6.87" height="6.83" fill="#d3e6f0"/>
<rect x="96.76" y="281.08" width="6.87" height="6.83" fill="#d3e6f0"/>
<rect x="103.58" y="281.08" width="6.87" height="6.83" fill="#d3e6f0"/>
<rect x="110.40" y="281.08" width="6.87" height="6.83" fill="#ebf1f5"/>
<rect x="117.22" y="281.08" width="6.87" height="6.83" fill="#9ecbe1"/>
<rect x="124.04" y="281.08" width="6.87" height="6.83" fill="#9ecbe1"/>
<rect x="130.86" y="281.08" width="6.87" height="6.83" fill="#c6413e"/>
<rect x="137.68" y="281.08" width="6.87" height="6.83" fill="#fddcc8"/>
<rect x="8.10" y="287.86" width="6.87" height="6.83" fill="#e88a6d"/>
<rect x="14.92" y="287.86" width="6.87" height="6.83" fill="#da6954"/>
<rect x="21.74" y="287.86" width="6.87" height="6.83" fill="#da6954"/>
<rect x="28.56" y="287.86" width="6.87" height="6.83" fill="#f09b7b"/>
<rect x="35.38" y="287.86" width="6.87" height="6.83" fill="#faccb4"/>
<rect x="42.20" y="287.86" width="6.87" height="6.83" fill="#f9eee7"/>
<rect x="49.02" y="287.86" width="6.87" height="6.83" fill="#c1ddeb"/>
<rect x="55.84" y="287.86" width="6.87" height="6.83" fill="#f7f7f7"/>
<rect x="62.66" y="287.86" width="6.87" height="6.83" fill="#9ecbe1"/>
<rect x="69.48" y="287.86" width="6.87" height="6.83" fill="#8cc1dc"/>
<rect x="76.30" y="287.86" width="6.87" height="6.83" fill="#f7f7f7"/>
<rect x="83.12" y="287.86" width="6.87" height="6.83" fill="#d3e6f0"/>
<rect x="89.94" y="287.86" width="6.87" height="6.83" fill="#d3e6f0"/>
<rect x="96.76" y="287.86" width="6.87" height="6.83" fill="#7ab6d6"/>
<rect x="103.58" y="287.86" width="6.87" height="6.83" fill="#7ab6d6"/>
<rect x="110.40" y="287.86" width="6.87" height="6.83" fill="#ebf1f5"/>
<rect x="117.22" y="287.86" width="6.87" height="6.83" fill="#fddcc8"/>
<rect x="124.04" y="287.86" width="6.87" height="6.83" fill="#f9eee7"/>
<rect x="130.86" y="287.86" width="6.87" height="6.83" fill="#fbe5d8"/>
<rect x="137.68" y="287.86" width="6.87" height="6.83" fill="#f9eee7"/>
<rect x="8.10" y="294.64" width="6.87" height="6.83" fill="#f5ac8b"/>
<rect x="14.92" y="294.64" width="6.87" height="6.83" fill="#b2192b"/>
<rect x="21.74" y="294.64" width="6.87" height="6.83" fill="#f09b7b"/>
<rect x="28.56" y="294.64" width="6.87" height="6.83" fill="#e17960"/>
<rect x="35.38" y="294.64" width="6.87" height="6.83" fill="#fddcc8"/>
<rect x="42.20" y="294.64" width="6.87" height="6.83" fill="#f9eee7"/>
<rect x="49.02" y="294.64" width="6.87" height="6.83" fill="#f7f7f7"/>
<rect x="55.84" y="294.64" width="6.87" height="6.83" fill="#ebf1f5"/>
<rect x="62.66" y="294.64" width="6.87" height="6.83" fill="#69abd0"/>
<rect x="69.48" y="294.64" width="6.87" height="6.83" fill="#4190c2"/>
<rect x="76.30" y="294.64" width="6.87" height="6.83" fill="#c1ddeb"/>
<rect x="83.12" y="294.64" width="6.87" height="6.83" fill="#f7f7f7"/>
<rect x="89.94" y="294.64" width="6.87" height="6.83" fill="#afd4e6"/>
<rect x="96.76" y="294.64" width="6.87" height="6.83" fill="#ebf1f5"/>
<rect x="103.58" y="294.64" width="6.87" height="6.83" fill="#dfebf3"/>
<rect x="110.40" y="294.64" width="6.87" height="6.83" fill="#ebf1f5"/>
<rect x="117.22" y="294.64" width="6.87" height="6.83" fill="#fddcc8"/>
<rect x="124.04" y="294.64" width="6.87" height="6.83" fill="#f9eee7"/>
<rect x="130.86" y="294.64" width="6.87" height="6.83" fill="#f9eee7"/>
<rect x="137.68" y="294.64" width="6.87" height="6.83" fill="#fbe5d8"/>
<rect x="8.10" y="301.42" width="6.87" height="6.83" fill="#fddcc8"/>
<rect x="14.92" y="301.42" width="6.87" height="6.83" fill="#e17960"/>
<rect x="21.74" y="301.42" width="6.87" height="6.83" fill="#f5ac8b"/>
<rect x="28.56" y="301.42" width="6.87" height="6.83" fill="#cd4d44"/>
<rect x="35.38" y="301.42" width="6.87" height="6.83" fill="#f9eee7"/>
<rect x="42.20" y="301.42" width="6.87" height="6.83" fill="#fbe5d8"/>
<rect x="49.02" y="301.42" width="6.87" height="6.83" fill="#f7f7f7"/>
<rect x="55.84" y="301.42" width="6.87" height="6.83" fill="#da6954"/>
<rect x="62.66" y="301.42" width="6.87" height="6.83" fill="#c1ddeb"/>
<rect x="69.48" y="301.42" width="6.87" height="6.83" fill="#afd4e6"/>
<rect x="76.30" y="301.42" width="6.87" height="6.83" fill="#f7f7f7"/>
<rect x="83.12" y="301.42" width="6.87" height="6.83" fill="#afd4e6"/>
<rect x="89.94" y="301.42" width="6.87" height="6.83" fill="#f7f7f7"/>
<rect x="96.76" y="301.42" width="6.87" height="6.83" fill="#ebf1f5"/>
<rect x="103.58" y="301.42" width="6.87" height="6.83" fill="#ebf1f5"/>
<rect x="110.40" y="301.42" width="6.87" height="6.83" fill="#ebf1f5"/>
<rect x="117.22" y="301.42" width="6.87" height="6.83" fill="#f9eee7"/>
<rect x="124.04" y="301.42" width="6.87" height="6.83" fill="#afd4e6"/>
<rect x="130.86" y="301.42" width="6.87" height="6.83" fill="#f9eee7"/>
<rect x="137.68" y="301.42" width="6.87" height="6.83" fill="#fbe5d8"/>
<rect x="8.10" y="308.20" width="6.87" height="6.83" fill="#faccb4"/>
<rect x="14.92" y="308.20" width="6.87" height="6.83" fill="#f5ac8b"/>
<rect x="21.74" y="308.20" width="6.87" height="6.83" fill="#bb2b34"/>
<rect x="28.56" y="308.20" width="6.87" height="6.83" fill="#f9eee7"/>
<rect x="35.38" y="308.20" width="6.87" height="6.83" fill="#fddcc8"/>
<rect x="42.20" y="308.20" width="6.87" height="6.83" fill="#fbe5d8"/>
<rect x="49.02" y="308.20" width="6.87" height="6.83" fill="#fddcc8"/>
<rect x="55.84" y="308.20" width="6.87" height="6.83" fill="#fddcc8"/>
<rect x="62.66" y="308.20" width="6.87" height="6.83" fill="#4190c2"/>
<rect x="69.48" y="308.20" width="6.87" height="6.83" fill="#59a1cb"/>
<rect x="76.30" y="308.20" width="6.87" height="6.83" fill="#d3e6f0"/>
<rect x="83.12" y="308.20" width="6.87" height="6.83" fill="#7ab6d6"/>
<rect x="89.94" y="308.20" width="6.87" height="6.83" fill="#d3e6f0"/>
<rect x="96.76" y="308.20" width="6.87" height="6.83" fill="#f7f7f7"/>
<rect x="103.58" y="308.20" width="6.87" height="6.83" fill="#c1ddeb"/>
<rect x="110.40" y="308.20" width="6.87" height="6.83" fill="#c1ddeb"/>
<rect x="117.22" y="308.20" width="6.87" height="6.83" fill="#e88a6d"/>
<rect x="124.04" y="308.20" width="6.87" height="6.83" fill="#f7f7f7"/>
<rect x="130.86" y="308.20" width="6.87" height="6.83" fill="#e88a6d"/>
<rect x="137.68" y="308.20" width="6.87" height="6.83" fill="#d3e6f0"/>
<rect x="8.10" y="314.98" width="6.87" height="6.83" fill="#faccb4"/>
<rect x="14.92" y="314.98" width="6.87" height="6.83" fill="#f09b7b"/>
<rect x="21.74" y="314.98" width="6.87" height="6.83" fill="#c13539"/>
<rect x="28.56" y="314.98" width="6.87" height="6.83" fill="#fbe5d8"/>
<rect x="35.38" y="314.98" width="6.87" height="6.83" fill="#e88a6d"/>
<rect x="42.20" y="314.98" width="6.87" height="6.83" fill="#faccb4"/>
<rect x="49.02" y="314.98" width="6.87" height="6.83" fill="#fddcc8"/>
<rect x="55.84" y="314.98" width="6.87" height="6.83" fill="#fddcc8"/>
<rect x="62.66" y="314.98" width="6.87" height="6.83" fill="#4190c2"/>
<rect x="69.48" y="314.98" width="6.87" height="6.83" fill="#59a1cb"/>
<rect x="76.30" y="314.98" width="6.87" height="6.83" fill="#ebf1f5"/>
<rect x="83.12" y="314.98" width="6.87" height="6.83" fill="#7ab6d6"/>
<rect x="89.94" y="314.98" width="6.87" height="6.83" fill="#ebf1f5"/>
<rect x="96.76" y="314.98" width="6.87" height="6.83" fill="#f7f7f7"/>
<rect x="103.58" y="314.98" width="6.87" height="6.83" fill="#dfebf3"/>
<rect x="110.40" y="314.98" width="6.87" height="6.83" fill="#ebf1f5"/>
<rect x="117.22" y="314.98" width="6.87" height="6.83" fill="#c1ddeb"/>
<rect x="124.04" y="314.98" width="6.87" height="6.83" fill="#c1ddeb"/>
<rect x="130.86" y="314.98" width="6.87" height="6.83" fill="#f5ac8b"/>
<rect x="137.68" y="314.98" width="6.87" height="6.83" fill="#ebf1f5"/>
<rect x="8.10" y="321.76" width="6.87" height="6.83" fill="#faccb4"/>
<rect x="14.92" y="321.76" width="6.87" height="6.83" fill="#f5ac8b"/>
<rect x="21.74" y="321.76" width="6.87" height="6.83" fill="#da6954"/>
<rect x="28.56" y="321.76" width="6.87" height="6.83" fill="#e17960"/>
<rect x="35.38" y="321.76" width="6.87" height="6.83" fill="#e17960"/>
<rect x="42.20" y="321.76" width="6.87" height="6.83" fill="#faccb4"/>
<rect x="49.02" y="321.76" width="6.87" height="6.83" fill="#faccb4"/>
<rect x="55.84" y="321.76" width="6.87" height="6.83" fill="#e88a6d"/>
<rect x="62.66" y="321.76" width="6.87" height="6.83" fill="#4190c2"/>
<rect x="69.48" y="321.76" width="6.87" height="6.83" fill="#4b98c6"/>
<rect x="76.30" y="321.76" width="6.87" height="6.83" fill="#d3e6f0"/>
<rect x="83.12" y="321.76" width="6.87" height="6.83" fill="#7ab6d6"/>
<rect x="89.94" y="321.76" width="6.87" height="6.83" fill="#ebf1f5"/>
<rect x="96.76" y="321.76" width="6.87" height="6.83" fill="#f7f7f7"/>
<rect x="103.58" y="321.76" width="6.87" height="6.83" fill="#d3e6f0"/>
<rect x="110.40" y="321.76" width="6.87" height="6.83" fill="#ebf1f5"/>
<rect x="117.22" y="321.76" width="6.87" height="6.83" fill="#f7f7f7"/>
<rect x="124.04" y="321.76" width="6.87" height="6.83" fill="#f7f7f7"/>
<rect x="130.86" y="321.76" width="6.87" height="6.83" fill="#f8bc9f"/>
<rect x="137.68" y="321.76" width="6.87" height="6.83" fill="#ebf1f5"/>
<rect x="8.10" y="328.54" width="6.87" height="6.83" fill="#f7f7f7"/>
<rect x="14.92" y="328.54" width="6.87" height="6.83" fill="#f9eee7"/>
<rect x="21.74" y="328.54" width="6.87" height="6.83" fill="#8e0d25"/>
<rect x="28.56" y="328.54" width="6.87" height="6.83" fill="#f8bc9f"/>
<rect x="35.38" y="328.54" width="6.87" height="6.83" fill="#f5ac8b"/>
<rect x="42.20" y="328.54" width="6.87" height="6.83" fill="#f8bc9f"/>
<rect x="49.02" y="328.54" width="6.87" height="6.83" fill="#f5ac8b"/>
<rect x="55.84" y="328.54" width="6.87" height="6.83" fill="#f5ac8b"/>
<rect x="62.66" y="328.54" width="6.87" height="6.83" fill="#afd4e6"/>
<rect x="69.48" y="328.54" width="6.87" height="6.83" fill="#9ecbe1"/>
<rect x="76.30" y="328.54" width="6.87" height="6.83" fill="#d3e6f0"/>
<rect x="83.12" y="328.54" width="6.87" height="6.83" fill="#7ab6d6"/>
<rect x="89.94" y="328.54" width="6.87" height="6.83" fill="#dfebf3"/>
<rect x="96.76" y="328.54" width="6.87" height="6.83" fill="#f7f7f7"/>
<rect x="103.58" y="328.54" width="6.87" height="6.83" fill="#ebf1f5"/>
<rect x="110.40" y="328.54" width="6.87" height="6.83" fill="#ebf1f5"/>
<rect x="117.22" y="328.54" width="6.87" height="6.83" fill="#f8bc9f"/>
<rect x="124.04" y="328.54" width="6.87" height="6.83" fill="#f7f7f7"/>
<rect x="130.86" y="328.54" width="6.87" height="6.83" fill="#d3e6f0"/>
<rect x="137.68" y="328.54" width="6.87" height="6.83" fill="#d3e6f0"/>
<rect x="8.10" y="335.32" width="6.87" height="6.83" fill="#f5ac8b"/>
<rect x="14.92" y="335.32" width="6.87" height="6.83" fill="#f7f7f7"/>
<rect x="21.74" y="335.32" width="6.87" height="6.83" fill="#c13539"/>
<rect x="28.56" y="335.32" width="6.87" height="6.83" fill="#fbe5d8"/>
<rect x="35.38" y="335.32" width="6.87" height="6.83" fill="#f9eee7"/>
<rect x="42.20" y="335.32" width="6.87" height="6.83" fill="#f9eee7"/>
<rect x="49.02" y="335.32" width="6.87" height="6.83" fill="#8e0d25"/>
<rect x="55.84" y="335.32" width="6.87" height="6.83" fill="#f9eee7"/>
<rect x="62.66" y="335.32" width="6.87" height="6.83" fill="#c1ddeb"/>
<rect x="69.48" y="335.32" width="6.87" height="6.83" fill="#9ecbe1"/>
<rect x="76.30" y="335.32" width="6.87" height="6.83" fill="#ebf1f5"/>
<rect x="83.12" y="335.32" width="6.87" height="6.83" fill="#ebf1f5"/>
<rect x="89.94" y="335.32" width="6.87" height="6.83" fill="#f7f7f7"/>
<rect x="96.76" y="335.32" width="6.87" height="6.83" fill="#c1ddeb"/>
<rect x="103.58" y="335.32" width="6.87" height="6.83" fill="#ebf1f5"/>
<rect x="110.40" y="335.32" width="6.87" height="6.83" fill="#dfebf3"/>
<rect x="117.22" y="335.32" width="6.87" height="6.83" fill="#e88a6d"/>
<rect x="124.04" y="335.32" width="6.87" height="6.83" fill="#3884bb"/>
<rect x="130.86" y="335.32" width="6.87" height="6.83" fill="#f7f7f7"/>
<rect x="137.68" y="335.32" width="6.87" height="6.83" fill="#d3e6f0"/>
<rect x="8.10" y="342.10" width="6.87" height="6.83" fill="#d3e6f0"/>
<rect x="14.92" y="342.10" width="6.87" height="6.83" fill="#f7f7f7"/>
<rect x="21.74" y="342.10" width="6.87" height="6.83" fill="#fddcc8"/>
<rect x="28.56" y="342.10" width="6.87" height="6.83" fill="#bb2b34"/>
<rect x="35.38" y="342.10" width="6.87" height="6.83" fill="#e88a6d"/>
<rect x="42.20" y="342.10" width="6.87" height="6.83" fill="#f8bc9f"/>
<rect x="49.02" y="342.10" width="6.87" height="6.83" fill="#e88a6d"/>
<rect x="55.84" y="342.10" width="6.87" height="6.83" fill="#f8bc9f"/>
<rect x="62.66" y="342.10" width="6.87" height="6.83" fill="#afd4e6"/>
<rect x="69.48" y="342.10" width="6.87" height="6.83" fill="#afd4e6"/>
<rect x="76.30" y="342.10" width="6.87" height="6.83" fill="#f7f7f7"/>
<rect x="83.12" y="342.10" width="6.87" height="6.83" fill="#c1ddeb"/>
<rect x="89.94" y="342.10" width="6.87" height="6.83" fill="#f7f7f7"/>
<rect x="96.76" y="342.10" width="6.87" height="6.83" fill="#faccb4"/>
<rect x="103.58" y="342.10" width="6.87" height="6.83" fill="#ebf1f5"/>
<rect x="110.40" y="342.10" width="6.87" height="6.83" fill="#ebf1f5"/>
<rect x="117.22" y="342.10" width="6.87" height="6.83" fill="#f8bc9f"/>
<rect x="124.04" y="342.10" width="6.87" height="6.83" fill="#3884bb"/>
<rect x="130.86" y="342.10" width="6.87" height="6.83" fill="#f7f7f7"/>
<rect x="137.68" y="342.10" width="6.87" height="6.83" fill="#afd4e6"/>
<rect x="8.10" y="348.88" width="6.87" height="6.83" fill="#d3e6f0"/>
<rect x="14.92" y="348.88" width="6.87" height="6.83" fill="#ebf1f5"/>
<rect x="21.74" y="348.88" width="6.87" height="6.83" fill="#9d1128"/>
<rect x="28.56" y="348.88" width="6.87" height="6.83" fill="#e17960"/>
<rect x="35.38" y="348.88" width="6.87" height="6.83" fill="#f09b7b"/>
<rect x="42.20" y="348.88" width="6.87" height="6.83" fill="#f8bc9f"/>
<rect x="49.02" y="348.88" width="6.87" height="6.83" fill="#f8bc9f"/>
<rect x="55.84" y="348.88" width="6.87" height="6.83" fill="#fddcc8"/>
<rect x="62.66" y="348.88" width="6.87" height="6.83" fill="#9ecbe1"/>
<rect x="69.48" y="348.88" width="6.87" height="6.83" fill="#9ecbe1"/>
<rect x="76.30" y="348.88" width="6.87" height="6.83" fill="#d3e6f0"/>
<rect x="83.12" y="348.88" width="6.87" height="6.83" fill="#d3e6f0"/>
<rect x="89.94" y="348.88" width="6.87" height="6.83" fill="#d3e6f0"/>
<rect x="96.76" y="348.88" width="6.87" height="6.83" fill="#ebf1f5"/>
<rect x="103.58" y="348.88" width="6.87" height="6.83" fill="#ebf1f5"/>
<rect x="110.40" y="348.88" width="6.87" height="6.83" fill="#ebf1f5"/>
<rect x="117.22" y="348.88" width="6.87" height="6.83" fill="#faccb4"/>
<rect x="124.04" y="348.88" width="6.87" height="6.83" fill="#3884bb"/>
<rect x="130.86" y="348.88" width="6.87" height="6.83" fill="#f7f7f7"/>
<rect x="137.68" y="348.88" width="6.87" height="6.83" fill="#ebf1f5"/>
<rect x="8.10" y="355.66" width="6.87" height="6.83" fill="#da6954"/>
<rect x="14.92" y="355.66" width="6.87" height="6.83" fill="#d3e6f0"/>
<rect x="21.74" y="355.66" width="6.87" height="6.83" fill="#f7f7f7"/>
<rect x="28.56" y="355.66" width="6.87" height="6.83" fill="#f8bc9f"/>
<rect x="35.38" y="355.66" width="6.87" height="6.83" fill="#e88a6d"/>
<rect x="42.20" y="355.66" width="6.87" height="6.83" fill="#fddcc8"/>
<rect x="49.02" y="355.66" width="6.87" height="6.83" fill="#fddcc8"/>
<rect x="55.84" y="355.66" width="6.87" height="6.83" fill="#ebf1f5"/>
<rect x="62.66" y="355.66" width="6.87" height="6.83" fill="#347fb9"/>
<rect x="69.48" y="355.66" width="6.87" height="6.83" fill="#9ecbe1"/>
<rect x="76.30" y="355.66" width="6.87" height="6.83" fill="#f7f7f7"/>
<rect x="83.12" y="355.66" width="6.87" height="6.83" fill="#da6954"/>
<rect x="89.94" y="355.66" width="6.87" height="6.83" fill="#f7f7f7"/>
<rect x="96.76" y="355.66" width="6.87" height="6.83" fill="#d3e6f0"/>
<rect x="103.58" y="355.66" width="6.87" height="6.83" fill="#ebf1f5"/>
<rect x="110.40" y="355.66" width="6.87" height="6.83" fill="#c1ddeb"/>
<rect x="117.22" y="355.66" width="6.87" height="6.83" fill="#b2192b"/>
<rect x="124.04" y="355.66" width="6.87" height="6.83" fill="#c1ddeb"/>
<rect x="130.86" y="355.66" width="6.87" height="6.83" fill="#f7f7f7"/>
<rect x="137.68" y="355.66" width="6.87" height="6.83" fill="#ebf1f5"/>
<rect x="8.10" y="362.44" width="6.87" height="6.83" fill="#f8bc9f"/>
<rect x="14.92" y="362.44" width="6.87" height="6.83" fill="#fbe5d8"/>
<rect x="21.74" y="362.44" width="6.87" height="6.83" fill="#c13539"/>
<rect x="28.56" y="362.44" width="6.87" height="6.83" fill="#e17960"/>
<rect x="35.38" y="362.44" width="6.87" height="6.83" fill="#fbe5d8"/>
<rect x="42.20" y="362.44" width="6.87" height="6.83" fill="#f9eee7"/>
<rect x="49.02" y="362.44" width="6.87" height="6.83" fill="#ebf1f5"/>
<rect x="55.84" y="362.44" width="6.87" height="6.83" fill="#d3e6f0"/>
<rect x="62.66" y="362.44" width="6.87" height="6.83" fill="#9ecbe1"/>
<rect x="69.48" y="362.44" width="6.87" height="6.83" fill="#9ecbe1"/>
<rect x="76.30" y="362.44" width="6.87" height="6.83" fill="#d3e6f0"/>
<rect x="83.12" y="362.44" width="6.87" height="6.83" fill="#c1ddeb"/>
<rect x="89.94" y="362.44" width="6.87" height="6.83" fill="#f7f7f7"/>
<rect x="96.76" y="362.44" width="6.87" height="6.83" fill="#afd4e6"/>
<rect x="103.58" y="362.44" width="6.87" height="6.83" fill="#ebf1f5"/>
<rect x="110.40" y="362.44" width="6.87" height="6.83" fill="#ebf1f5"/>
<rect x="117.22" y="362.44" width="6.87" height="6.83" fill="#b2192b"/>
<rect x="124.04" y="362.44" width="6.87" height="6.83" fill="#4190c2"/>
<rect x="130.86" y="362.44" width="6.87" height="6.83" fill="#fbe5d8"/>
<rect x="137.68" y="362.44" width="6.87" height="6.83" fill="#ebf1f5"/>
<rect x="8.10" y="369.22" width="6.87" height="6.83" fill="#f5ac8b"/>
<rect x="14.92" y="369.22" width="6.87" height="6.83" fill="#f5ac8b"/>
<rect x="21.74" y="369.22" width="6.87" height="6.83" fill="#f09b7b"/>
<rect x="28.56" y="369.22" width="6.87" height="6.83" fill="#f9eee7"/>
<rect x="35.38" y="369.22" width="6.87" height="6.83" fill="#f8bc9f"/>
<rect x="42.20" y="369.22" width="6.87" height="6.83" fill="#f9eee7"/>
<rect x="49.02" y="369.22" width="6.87" height="6.83" fill="#f7f7f7"/>
<rect x="55.84" y="369.22" width="6.87" height="6.83" fill="#ebf1f5"/>
<rect x="62.66" y="369.22" width="6.87" height="6.83" fill="#afd4e6"/>
<rect x="69.48" y="369.22" width="6.87" height="6.83" fill="#afd4e6"/>
<rect x="76.30" y="369.22" width="6.87" height="6.83" fill="#ebf1f5"/>
<rect x="83.12" y="369.22" width="6.87" height="6.83" fill="#ebf1f5"/>
<rect x="89.94" y="369.22" width="6.87" height="6.83" fill="#f7f7f7"/>
<rect x="96.76" y="369.22" width="6.87" height="6.83" fill="#ebf1f5"/>
<rect x="103.58" y="369.22" width="6.87" height="6.83" fill="#ebf1f5"/>
<rect x="110.40" y="369.22" width="6.87" height="6.83" fill="#f7f7f7"/>
<rect x="117.22" y="369.22" width="6.87" height="6.83" fill="#b2192b"/>
<rect x="124.04" y="369.22" width="6.87" height="6.83" fill="#307ab6"/>
<rect x="130.86" y="369.22" width="6.87" height="6.83" fill="#faccb4"/>
<rect x="137.68" y="369.22" width="6.87" height="6.83" fill="#ebf1f5"/>
<rect x="8.10" y="19.3" width="6.87" height="7.5" fill="#9e4fb5"/>
<rect x="8.10" y="27.7" width="6.87" height="8.1" fill="#e41a1c"/>
<rect x="14.92" y="19.3" width="6.87" height="7.5" fill="#9e4fb5"/>
<rect x="14.92" y="27.7" width="6.87" height="8.1" fill="#e41a1c"/>
<rect x="21.74" y="19.3" width="6.87" height="7.5" fill="#9e4fb5"/>
<rect x="21.74" y="27.7" width="6.87" height="8.1" fill="#e41a1c"/>
<rect x="28.56" y="19.3" width="6.87" height="7.5" fill="#9e4fb5"/>
<rect x="28.56" y="27.7" width="6.87" height="8.1" fill="#e41a1c"/>
<rect x="35.38" y="19.3" width="6.87" height="7.5" fill="#9e4fb5"/>
<rect x="35.38" y="27.7" width="6.87" height="8.1" fill="#e41a1c"/>
<rect x="42.20" y="19.3" width="6.87" height="7.5" fill="#9e4fb5"/>
<rect x="42.20" y="27.7" width="6.87" height="8.1" fill="#e41a1c"/>
<rect x="49.02" y="19.3" width="6.87" height="7.5" fill="#4daf4a"/>
<rect x="49.02" y="27.7" width="6.87" height="8.1" fill="#e41a1c"/>
<rect x="55.84" y="19.3" width="6.87" height="7.5" fill="#9e4fb5"/>
<rect x="55.84" y="27.7" width="6.87" height="8.1" fill="#377eb8"/>
<rect x="62.66" y="19.3" width="6.87" height="7.5" fill="#4daf4a"/>
<rect x="62.66" y="27.7" width="6.87" height="8.1" fill="#377eb8"/>
<rect x="69.48" y="19.3" width="6.87" height="7.5" fill="#4daf4a"/>
<rect x="69.48" y="27.7" width="6.87" height="8.1" fill="#377eb8"/>
<rect x="76.30" y="19.3" width="6.87" height="7.5" fill="#4daf4a"/>
<rect x="76.30" y="27.7" width="6.87" height="8.1" fill="#e41a1c"/>
<rect x="83.12" y="19.3" width="6.87" height="7.5" fill="#4daf4a"/>
<rect x="83.12" y="27.7" width="6.87" height="8.1" fill="#e41a1c"/>
<rect x="89.94" y="19.3" width="6.87" height="7.5" fill="#9e4fb5"/>
<rect x="89.94" y="27.7" width="6.87" height="8.1" fill="#377eb8"/>
<rect x="96.76" y="19.3" width="6.87" height="7.5" fill="#4daf4a"/>
<rect x="96.76" y="27.7" width="6.87" height="8.1" fill="#377eb8"/>
<rect x="103.58" y="19.3" width="6.87" height="7.5" fill="#9e4fb5"/>
<rect x="103.58" y="27.7" width="6.87" height="8.1" fill="#377eb8"/>
<rect x="110.40" y="19.3" width="6.87" height="7.5" fill="#9e4fb5"/>
<rect x="110.40" y="27.7" width="6.87" height="8.1" fill="#377eb8"/>
<rect x="117.22" y="19.3" width="6.87" height="7.5" fill="#9e4fb5"/>
<rect x="117.22" y="27.7" width="6.87" height="8.1" fill="#e41a1c"/>
<rect x="124.04" y="19.3" width="6.87" height="7.5" fill="#9e4fb5"/>
<rect x="124.04" y="27.7" width="6.87" height="8.1" fill="#377eb8"/>
<rect x="130.86" y="19.3" width="6.87" height="7.5" fill="#9e4fb5"/>
<rect x="130.86" y="27.7" width="6.87" height="8.1" fill="#377eb8"/>
<rect x="137.68" y="19.3" width="6.87" height="7.5" fill="#9e4fb5"/>
<rect x="137.68" y="27.7" width="6.87" height="8.1" fill="#377eb8"/>
</g>
<rect x="8.10" y="37.00" width="136.40" height="339.00" fill="none" stroke="#222" stroke-width="0.9"/>
<g font-family="Liberation Sans, Arial, sans-serif" font-size="6" fill="#111">
<text x="145.4" y="42.49">C3orf70</text>
<text x="145.4" y="49.27">ST6GALNAC1</text>
<text x="145.4" y="56.05">WSCD1</text>
<text x="145.4" y="62.83">LINC01235</text>
<text x="145.4" y="69.61">COL25A1</text>
<text x="145.4" y="76.39">TRBV4−2</text>
<text x="145.4" y="83.17">IKZF3</text>
<text x="145.4" y="89.95">TRBC1</text>
<text x="145.4" y="96.73">OAS1</text>
<text x="145.4" y="103.51">IDO1</text>
<text x="145.4" y="110.29">CXCL11</text>
<text x="145.4" y="117.07">CXCL10</text>
<text x="145.4" y="123.85">LGALS17A</text>
<text x="145.4" y="130.63">LINC02446</text>
<text x="145.4" y="137.41">IGLV2−18</text>
<text x="145.4" y="144.19">CXCR2P1</text>
<text x="145.4" y="150.97">IFNG</text>
<text x="145.4" y="157.75">CXCR6</text>
<text x="145.4" y="164.53">CXCL13</text>
<text x="145.4" y="171.31">STAT1</text>
<text x="145.4" y="178.09">AIM2</text>
<text x="145.4" y="184.87">CXCL9</text>
<text x="145.4" y="191.65">GBP5</text>
<text x="145.4" y="198.43">NCF1</text>
<text x="145.4" y="205.21">C1QB</text>
<text x="145.4" y="211.99">C1QA</text>
<text x="145.4" y="218.77">ENSG00000227017</text>
<text x="145.4" y="225.55">HAMP</text>
<text x="145.4" y="232.33">PTPRN2-AS1</text>
<text x="145.4" y="239.11">IFI6</text>
<text x="145.4" y="245.89">NRIR</text>
<text x="145.4" y="252.67">BATF2</text>
<text x="145.4" y="259.45">PPIAP45</text>
<text x="145.4" y="266.23">BCL2L14</text>
<text x="145.4" y="273.01">APOBEC3A</text>
<text x="145.4" y="279.79">APOBEC3A</text>
<text x="145.4" y="286.57">CALHM6</text>
<text x="145.4" y="293.35">GZMB</text>
<text x="145.4" y="300.13">KLHDC7B</text>
<text x="145.4" y="306.91">FCGR3A</text>
<text x="145.4" y="313.69">DNAJC5B</text>
<text x="145.4" y="320.47">CLEC4E</text>
<text x="145.4" y="327.25">BCL2A1</text>
<text x="145.4" y="334.03">CLEC4D</text>
<text x="145.4" y="340.81">TIMD4</text>
<text x="145.4" y="347.59">CD80</text>
<text x="145.4" y="354.37">USP30-AS1</text>
<text x="145.4" y="361.15">GBP1P1</text>
<text x="145.4" y="367.93">CCR5AS</text>
<text x="145.4" y="374.71">JAKMIP1</text>
</g>
<path d="M11.51 17.80L18.33 17.80 M11.51 17.80L11.51 19.40 M18.33 17.80L18.33 19.40 M14.92 17.00L25.15 17.00 M14.92 17.00L14.92 17.80 M25.15 17.00L25.15 19.40 M31.97 17.60L38.79 17.60 M31.97 17.60L31.97 19.40 M38.79 17.60L38.79 19.40 M45.61 17.30L52.43 17.30 M45.61 17.30L45.61 19.40 M52.43 17.30L52.43 19.40 M35.38 16.60L49.02 16.60 M35.38 16.60L35.38 17.60 M49.02 16.60L49.02 17.30 M20.03 15.30L42.20 15.30 M20.03 15.30L20.03 17.00 M42.20 15.30L42.20 16.60 M59.25 17.60L66.07 17.60 M59.25 17.60L59.25 19.40 M66.07 17.60L66.07 19.40 M72.89 17.40L79.71 17.40 M72.89 17.40L72.89 19.40 M79.71 17.40L79.71 19.40 M62.66 16.40L76.30 16.40 M62.66 16.40L62.66 17.60 M76.30 16.40L76.30 17.40 M86.53 17.20L93.35 17.20 M86.53 17.20L86.53 19.40 M93.35 17.20L93.35 19.40 M106.99 17.60L113.81 17.60 M106.99 17.60L106.99 19.40 M113.81 17.60L113.81 19.40 M100.17 16.80L110.40 16.80 M100.17 16.80L100.17 19.40 M110.40 16.80L110.40 17.60 M89.94 15.40L105.28 15.40 M89.94 15.40L89.94 17.20 M105.28 15.40L105.28 16.80 M69.48 14.30L97.61 14.30 M69.48 14.30L69.48 16.40 M97.61 14.30L97.61 15.40 M134.27 17.20L141.09 17.20 M134.27 17.20L134.27 19.40 M141.09 17.20L141.09 19.40 M127.45 15.30L137.68 15.30 M127.45 15.30L127.45 19.40 M137.68 15.30L137.68 17.20 M120.63 14.40L132.56 14.40 M120.63 14.40L120.63 19.40 M132.56 14.40L132.56 15.30 M83.55 11.50L126.60 11.50 M83.55 11.50L83.55 14.30 M126.60 11.50L126.60 14.40 M31.12 9.80L105.07 9.80 M31.12 9.80L31.12 15.30 M105.07 9.80L105.07 11.50" stroke="#111" stroke-width="0.75" fill="none"/>
<g font-family="Liberation Sans, Arial, sans-serif" font-weight="bold" font-size="8" fill="#000">
<text x="-0.3" y="6.6">A</text>
<text x="189.6" y="6.8">B</text>
<text x="191.3" y="186.1">C</text>
</g>
<defs><linearGradient id="cb" x1="0" x2="1" y1="0" y2="0">
<stop offset="0.000" stop-color="#053061"/>
<stop offset="0.100" stop-color="#2166ac"/>
<stop offset="0.200" stop-color="#4393c3"/>
<stop offset="0.300" stop-color="#92c5de"/>
<stop offset="0.400" stop-color="#d1e5f0"/>
<stop offset="0.500" stop-color="#f7f7f7"/>
<stop offset="0.600" stop-color="#fddbc7"/>
<stop offset="0.700" stop-color="#f4a582"/>
<stop offset="0.800" stop-color="#d6604d"/>
<stop offset="0.900" stop-color="#b2182b"/>
<stop offset="1.000" stop-color="#67001f"/>
</linearGradient></defs>
<rect x="10.3" y="385" width="77" height="5.2" fill="url(#cb)"/>
<g font-family="Liberation Sans, Arial, sans-serif" font-size="6.5" fill="#222" text-anchor="middle">
<text x="49.3" y="383.6" font-weight="bold">z-score</text>
<text x="22.3" y="396.8">-2</text>
<text x="35.8" y="396.8">-1</text>
<text x="49.3" y="396.8">0</text>
<text x="62.8" y="396.8">1</text>
<text x="76.3" y="396.8">2</text>
</g>
<g font-family="Liberation Sans, Arial, sans-serif" font-size="6.5" fill="#222">
<text x="98.9" y="383.2" font-weight="bold" font-size="5.7">Period</text>
<text x="120.3" y="383.2" font-weight="bold" font-size="5.7">Outcome</text>
<rect x="98.9" y="385" width="7" height="6.4" fill="#e41a1c"/>
<rect x="98.9" y="391.4" width="7" height="6.8" fill="#377eb8"/>
<rect x="120.8" y="385" width="6.6" height="6.4" fill="#4daf4a"/>
<rect x="120.8" y="391.4" width="6.6" height="6.8" fill="#9e4fb5"/>
<text x="107.9" y="391.1">BT</text>
<text x="107.9" y="398.4">AT</text>
<text x="129.9" y="391.1">R</text>
<text x="129.9" y="398.4">NR</text>
</g>
<rect x="206.4" y="9.0" width="179.5" height="155.1" fill="#fff"/>
<path d="M227.65 9.00V164.10M257.60 9.00V164.10M287.55 9.00V164.10M317.50 9.00V164.10M347.45 9.00V164.10M377.40 9.00V164.10M206.40 155.60H385.90M206.40 130.12H385.90M206.40 104.65H385.90M206.40 79.17H385.90M206.40 53.70H385.90M206.40 28.22H385.90" stroke="#f0f0f0" stroke-width="0.5" fill="none"/>
<path d="M317.50 157.43 L319.80 152.54 L321.72 150.00 L324.14 145.41 L326.46 141.03 L329.23 137.26 L331.47 134.20 L336.98 131.14 L341.75 128.49 L343.26 127.58 L340.86 125.54 L336.97 126.05 L333.07 129.11 L329.48 132.67 L324.99 134.71 L319.90 135.73 L318.40 131.14 L316.60 131.14 L315.10 135.73 L310.01 134.71 L305.52 132.67 L301.93 129.11 L298.03 126.05 L294.14 125.54 L291.74 127.58 L293.25 128.49 L298.02 131.14 L303.53 134.20 L305.77 137.26 L308.54 141.03 L310.86 145.41 L313.28 150.00 L315.20 152.54 L317.50 157.43 Z" fill="#f6877f"/>
<g fill="#f8766d">
<rect x="310.6" y="146.2" width="1.1" height="1.1"/><rect x="316.3" y="154.6" width="1.1" height="1.1"/><rect x="316.4" y="154.3" width="1.1" height="1.1"/><rect x="309.5" y="142.8" width="1.1" height="1.1"/><rect x="304.7" y="139.2" width="1.1" height="1.1"/><rect x="314.1" y="152.3" width="1.1" height="1.1"/><rect x="305.1" y="138.2" width="1.1" height="1.1"/><rect x="310.7" y="143.9" width="1.1" height="1.1"/><rect x="338.4" y="129.8" width="1.1" height="1.1"/><rect x="327.7" y="139.5" width="1.1" height="1.1"/><rect x="302.7" y="135.2" width="1.1" height="1.1"/><rect x="327.6" y="136.5" width="1.1" height="1.1"/><rect x="301.8" y="134.3" width="1.1" height="1.1"/><rect x="327.6" y="140.9" width="1.1" height="1.1"/><rect x="325.4" y="141.8" width="1.1" height="1.1"/><rect x="311.1" y="148.5" width="1.1" height="1.1"/><rect x="322.3" y="148.6" width="1.1" height="1.1"/><rect x="338.1" y="129.3" width="1.1" height="1.1"/><rect x="291.2" y="126.1" width="1.1" height="1.1"/><rect x="319.8" y="151.0" width="1.1" height="1.1"/><rect x="305.6" y="141.1" width="1.1" height="1.1"/><rect x="318.3" y="153.7" width="1.1" height="1.1"/><rect x="324.3" y="145.4" width="1.1" height="1.1"/><rect x="306.3" y="142.1" width="1.1" height="1.1"/><rect x="309.6" y="141.6" width="1.1" height="1.1"/><rect x="329.9" y="134.6" width="1.1" height="1.1"/><rect x="323.0" y="144.3" width="1.1" height="1.1"/><rect x="307.6" y="142.0" width="1.1" height="1.1"/><rect x="306.3" y="141.0" width="1.1" height="1.1"/><rect x="314.4" y="152.1" width="1.1" height="1.1"/><rect x="338.3" y="128.0" width="1.1" height="1.1"/><rect x="327.2" y="142.3" width="1.1" height="1.1"/><rect x="338.5" y="131.0" width="1.1" height="1.1"/><rect x="347.2" y="125.9" width="1.1" height="1.1"/><rect x="314.4" y="151.5" width="1.1" height="1.1"/><rect x="303.8" y="135.9" width="1.1" height="1.1"/><rect x="327.5" y="138.1" width="1.1" height="1.1"/><rect x="320.3" y="151.6" width="1.1" height="1.1"/><rect x="309.8" y="146.3" width="1.1" height="1.1"/><rect x="307.2" y="140.3" width="1.1" height="1.1"/><rect x="338.9" y="129.4" width="1.1" height="1.1"/><rect x="325.2" y="144.0" width="1.1" height="1.1"/><rect x="315.3" y="154.2" width="1.1" height="1.1"/><rect x="309.0" y="142.6" width="1.1" height="1.1"/><rect x="316.0" y="154.5" width="1.1" height="1.1"/><rect x="327.8" y="139.7" width="1.1" height="1.1"/><rect x="315.5" y="153.9" width="1.1" height="1.1"/><rect x="321.0" y="151.5" width="1.1" height="1.1"/><rect x="327.0" y="137.7" width="1.1" height="1.1"/><rect x="338.4" y="130.1" width="1.1" height="1.1"/><rect x="311.7" y="146.5" width="1.1" height="1.1"/><rect x="323.8" y="145.6" width="1.1" height="1.1"/><rect x="304.6" y="134.9" width="1.1" height="1.1"/><rect x="339.1" y="127.0" width="1.1" height="1.1"/><rect x="305.2" y="139.5" width="1.1" height="1.1"/><rect x="310.2" y="147.0" width="1.1" height="1.1"/><rect x="323.7" y="148.1" width="1.1" height="1.1"/><rect x="309.7" y="145.2" width="1.1" height="1.1"/><rect x="335.5" y="132.3" width="1.1" height="1.1"/><rect x="303.2" y="137.3" width="1.1" height="1.1"/><rect x="299.5" y="131.1" width="1.1" height="1.1"/><rect x="305.4" y="141.0" width="1.1" height="1.1"/><rect x="333.4" y="131.9" width="1.1" height="1.1"/><rect x="330.7" y="134.9" width="1.1" height="1.1"/><rect x="347.2" y="127.4" width="1.1" height="1.1"/><rect x="311.0" y="144.9" width="1.1" height="1.1"/><rect x="324.9" y="141.7" width="1.1" height="1.1"/><rect x="304.6" y="137.0" width="1.1" height="1.1"/><rect x="302.0" y="136.1" width="1.1" height="1.1"/><rect x="319.9" y="152.4" width="1.1" height="1.1"/><rect x="335.4" y="133.1" width="1.1" height="1.1"/><rect x="323.9" y="142.8" width="1.1" height="1.1"/><rect x="342.2" y="127.1" width="1.1" height="1.1"/><rect x="300.0" y="133.3" width="1.1" height="1.1"/><rect x="314.2" y="150.9" width="1.1" height="1.1"/><rect x="330.1" y="138.0" width="1.1" height="1.1"/><rect x="320.4" y="151.6" width="1.1" height="1.1"/><rect x="311.4" y="145.4" width="1.1" height="1.1"/><rect x="298.0" y="131.6" width="1.1" height="1.1"/><rect x="347.5" y="127.5" width="1.1" height="1.1"/><rect x="313.7" y="150.1" width="1.1" height="1.1"/><rect x="311.6" y="149.6" width="1.1" height="1.1"/><rect x="324.7" y="146.1" width="1.1" height="1.1"/><rect x="318.5" y="154.2" width="1.1" height="1.1"/><rect x="332.1" y="135.8" width="1.1" height="1.1"/><rect x="293.4" y="129.2" width="1.1" height="1.1"/><rect x="305.2" y="140.1" width="1.1" height="1.1"/><rect x="297.6" y="132.3" width="1.1" height="1.1"/><rect x="313.8" y="151.5" width="1.1" height="1.1"/><rect x="303.2" y="133.9" width="1.1" height="1.1"/><rect x="328.1" y="140.2" width="1.1" height="1.1"/><rect x="315.1" y="152.8" width="1.1" height="1.1"/><rect x="311.1" y="147.6" width="1.1" height="1.1"/><rect x="306.2" y="138.9" width="1.1" height="1.1"/><rect x="303.8" y="137.3" width="1.1" height="1.1"/><rect x="325.8" y="142.2" width="1.1" height="1.1"/><rect x="323.4" y="148.5" width="1.1" height="1.1"/><rect x="289.6" y="128.8" width="1.1" height="1.1"/><rect x="314.2" y="151.9" width="1.1" height="1.1"/><rect x="310.7" y="146.4" width="1.1" height="1.1"/><rect x="322.4" y="149.6" width="1.1" height="1.1"/><rect x="288.4" y="128.6" width="1.1" height="1.1"/><rect x="327.9" y="136.4" width="1.1" height="1.1"/><rect x="337.9" y="129.1" width="1.1" height="1.1"/><rect x="346.5" y="127.0" width="1.1" height="1.1"/><rect x="314.1" y="151.1" width="1.1" height="1.1"/><rect x="324.8" y="142.9" width="1.1" height="1.1"/><rect x="320.3" y="150.1" width="1.1" height="1.1"/><rect x="324.5" y="144.9" width="1.1" height="1.1"/><rect x="308.8" y="142.6" width="1.1" height="1.1"/><rect x="326.9" y="140.3" width="1.1" height="1.1"/><rect x="315.2" y="154.1" width="1.1" height="1.1"/><rect x="318.8" y="152.9" width="1.1" height="1.1"/><rect x="294.3" y="128.4" width="1.1" height="1.1"/><rect x="320.3" y="152.1" width="1.1" height="1.1"/><rect x="330.1" y="135.4" width="1.1" height="1.1"/><rect x="328.2" y="139.7" width="1.1" height="1.1"/><rect x="314.7" y="153.3" width="1.1" height="1.1"/><rect x="313.4" y="150.5" width="1.1" height="1.1"/><rect x="316.2" y="155.6" width="1.1" height="1.1"/><rect x="315.9" y="153.5" width="1.1" height="1.1"/><rect x="335.0" y="129.7" width="1.1" height="1.1"/><rect x="346.9" y="125.7" width="1.1" height="1.1"/><rect x="312.5" y="147.9" width="1.1" height="1.1"/><rect x="299.7" y="134.4" width="1.1" height="1.1"/><rect x="312.2" y="148.1" width="1.1" height="1.1"/><rect x="323.5" y="146.5" width="1.1" height="1.1"/><rect x="321.5" y="149.8" width="1.1" height="1.1"/><rect x="321.5" y="150.6" width="1.1" height="1.1"/><rect x="296.1" y="125.7" width="1.1" height="1.1"/><rect x="301.9" y="133.7" width="1.1" height="1.1"/><rect x="321.2" y="148.6" width="1.1" height="1.1"/><rect x="338.1" y="131.0" width="1.1" height="1.1"/><rect x="329.7" y="139.4" width="1.1" height="1.1"/><rect x="309.1" y="146.7" width="1.1" height="1.1"/><rect x="310.3" y="145.6" width="1.1" height="1.1"/><rect x="308.8" y="145.4" width="1.1" height="1.1"/><rect x="317.3" y="155.6" width="1.1" height="1.1"/><rect x="318.3" y="154.4" width="1.1" height="1.1"/><rect x="331.0" y="135.6" width="1.1" height="1.1"/><rect x="303.2" y="134.9" width="1.1" height="1.1"/><rect x="319.4" y="151.3" width="1.1" height="1.1"/><rect x="325.9" y="144.9" width="1.1" height="1.1"/><rect x="308.4" y="139.3" width="1.1" height="1.1"/><rect x="294.8" y="129.1" width="1.1" height="1.1"/><rect x="317.0" y="156.0" width="1.1" height="1.1"/><rect x="311.8" y="147.5" width="1.1" height="1.1"/><rect x="301.2" y="132.3" width="1.1" height="1.1"/><rect x="318.9" y="153.3" width="1.1" height="1.1"/><rect x="324.1" y="144.0" width="1.1" height="1.1"/><rect x="311.4" y="149.0" width="1.1" height="1.1"/><rect x="333.1" y="134.2" width="1.1" height="1.1"/><rect x="329.5" y="134.0" width="1.1" height="1.1"/><rect x="305.0" y="133.9" width="1.1" height="1.1"/><rect x="339.7" y="130.5" width="1.1" height="1.1"/><rect x="294.3" y="131.2" width="1.1" height="1.1"/><rect x="298.7" y="133.1" width="1.1" height="1.1"/><rect x="307.5" y="138.2" width="1.1" height="1.1"/><rect x="318.0" y="154.8" width="1.1" height="1.1"/><rect x="324.7" y="144.6" width="1.1" height="1.1"/><rect x="304.5" y="136.9" width="1.1" height="1.1"/><rect x="316.3" y="156.0" width="1.1" height="1.1"/><rect x="306.6" y="140.7" width="1.1" height="1.1"/><rect x="317.9" y="154.0" width="1.1" height="1.1"/><rect x="318.1" y="153.8" width="1.1" height="1.1"/><rect x="299.1" y="132.9" width="1.1" height="1.1"/><rect x="346.1" y="126.2" width="1.1" height="1.1"/><rect x="318.8" y="153.7" width="1.1" height="1.1"/><rect x="306.9" y="137.2" width="1.1" height="1.1"/><rect x="320.4" y="151.6" width="1.1" height="1.1"/><rect x="305.7" y="134.9" width="1.1" height="1.1"/><rect x="318.6" y="154.2" width="1.1" height="1.1"/><rect x="314.7" y="153.0" width="1.1" height="1.1"/><rect x="322.9" y="147.2" width="1.1" height="1.1"/><rect x="305.9" y="141.8" width="1.1" height="1.1"/><rect x="329.8" y="139.3" width="1.1" height="1.1"/><rect x="293.4" y="127.4" width="1.1" height="1.1"/><rect x="319.1" y="153.7" width="1.1" height="1.1"/><rect x="310.7" y="144.2" width="1.1" height="1.1"/><rect x="319.4" y="153.3" width="1.1" height="1.1"/><rect x="320.5" y="152.0" width="1.1" height="1.1"/><rect x="302.7" y="134.6" width="1.1" height="1.1"/><rect x="335.8" y="129.3" width="1.1" height="1.1"/><rect x="317.6" y="156.0" width="1.1" height="1.1"/><rect x="309.2" y="143.7" width="1.1" height="1.1"/><rect x="308.3" y="144.6" width="1.1" height="1.1"/><rect x="317.7" y="156.0" width="1.1" height="1.1"/><rect x="314.1" y="152.4" width="1.1" height="1.1"/><rect x="339.2" y="128.5" width="1.1" height="1.1"/><rect x="318.7" y="154.1" width="1.1" height="1.1"/><rect x="330.7" y="138.1" width="1.1" height="1.1"/><rect x="302.1" y="133.0" width="1.1" height="1.1"/><rect x="318.0" y="154.5" width="1.1" height="1.1"/><rect x="320.0" y="151.5" width="1.1" height="1.1"/><rect x="324.3" y="146.4" width="1.1" height="1.1"/><rect x="307.4" y="143.0" width="1.1" height="1.1"/><rect x="303.2" y="136.8" width="1.1" height="1.1"/><rect x="317.7" y="154.6" width="1.1" height="1.1"/><rect x="332.9" y="133.1" width="1.1" height="1.1"/><rect x="295.0" y="128.2" width="1.1" height="1.1"/><rect x="324.4" y="143.4" width="1.1" height="1.1"/><rect x="331.7" y="133.5" width="1.1" height="1.1"/><rect x="322.3" y="148.8" width="1.1" height="1.1"/><rect x="308.6" y="144.0" width="1.1" height="1.1"/><rect x="318.5" y="153.8" width="1.1" height="1.1"/><rect x="327.7" y="142.2" width="1.1" height="1.1"/><rect x="308.0" y="142.3" width="1.1" height="1.1"/><rect x="312.1" y="148.6" width="1.1" height="1.1"/><rect x="315.3" y="153.3" width="1.1" height="1.1"/><rect x="294.6" y="131.3" width="1.1" height="1.1"/><rect x="332.1" y="133.2" width="1.1" height="1.1"/><rect x="302.0" y="133.3" width="1.1" height="1.1"/><rect x="310.1" y="145.7" width="1.1" height="1.1"/><rect x="326.4" y="138.5" width="1.1" height="1.1"/><rect x="309.0" y="140.7" width="1.1" height="1.1"/><rect x="340.3" y="128.7" width="1.1" height="1.1"/><rect x="327.0" y="142.4" width="1.1" height="1.1"/><rect x="297.3" y="129.4" width="1.1" height="1.1"/><rect x="327.0" y="143.1" width="1.1" height="1.1"/><rect x="308.0" y="141.1" width="1.1" height="1.1"/><rect x="347.3" y="127.7" width="1.1" height="1.1"/><rect x="312.3" y="148.5" width="1.1" height="1.1"/><rect x="312.8" y="151.4" width="1.1" height="1.1"/><rect x="329.1" y="134.0" width="1.1" height="1.1"/><rect x="297.5" y="132.3" width="1.1" height="1.1"/><rect x="311.5" y="149.0" width="1.1" height="1.1"/><rect x="310.3" y="146.8" width="1.1" height="1.1"/><rect x="328.0" y="139.9" width="1.1" height="1.1"/><rect x="314.9" y="152.6" width="1.1" height="1.1"/><rect x="292.4" y="127.2" width="1.1" height="1.1"/><rect x="313.2" y="149.2" width="1.1" height="1.1"/><rect x="322.5" y="146.9" width="1.1" height="1.1"/><rect x="310.5" y="146.4" width="1.1" height="1.1"/><rect x="313.0" y="148.9" width="1.1" height="1.1"/><rect x="323.4" y="143.5" width="1.1" height="1.1"/><rect x="320.3" y="150.1" width="1.1" height="1.1"/><rect x="323.1" y="149.1" width="1.1" height="1.1"/><rect x="311.4" y="149.1" width="1.1" height="1.1"/><rect x="332.7" y="134.1" width="1.1" height="1.1"/><rect x="321.9" y="150.0" width="1.1" height="1.1"/><rect x="307.3" y="140.6" width="1.1" height="1.1"/><rect x="313.1" y="149.9" width="1.1" height="1.1"/><rect x="320.9" y="149.3" width="1.1" height="1.1"/><rect x="302.5" y="137.0" width="1.1" height="1.1"/><rect x="305.8" y="141.2" width="1.1" height="1.1"/><rect x="319.3" y="151.6" width="1.1" height="1.1"/><rect x="316.6" y="155.3" width="1.1" height="1.1"/><rect x="303.2" y="134.4" width="1.1" height="1.1"/><rect x="343.6" y="128.6" width="1.1" height="1.1"/><rect x="293.0" y="125.6" width="1.1" height="1.1"/><rect x="320.0" y="150.4" width="1.1" height="1.1"/><rect x="332.2" y="135.8" width="1.1" height="1.1"/><rect x="339.3" y="126.0" width="1.1" height="1.1"/><rect x="317.0" y="156.0" width="1.1" height="1.1"/><rect x="308.5" y="143.2" width="1.1" height="1.1"/><rect x="332.4" y="132.9" width="1.1" height="1.1"/><rect x="333.7" y="131.0" width="1.1" height="1.1"/><rect x="303.4" y="134.5" width="1.1" height="1.1"/><rect x="293.1" y="128.0" width="1.1" height="1.1"/><rect x="329.2" y="133.5" width="1.1" height="1.1"/><rect x="323.4" y="143.5" width="1.1" height="1.1"/><rect x="316.2" y="155.0" width="1.1" height="1.1"/><rect x="315.5" y="154.2" width="1.1" height="1.1"/><rect x="340.1" y="128.6" width="1.1" height="1.1"/><rect x="310.9" y="145.8" width="1.1" height="1.1"/><rect x="334.1" y="134.2" width="1.1" height="1.1"/><rect x="312.2" y="147.0" width="1.1" height="1.1"/><rect x="322.6" y="148.9" width="1.1" height="1.1"/><rect x="327.1" y="141.8" width="1.1" height="1.1"/><rect x="338.6" y="128.1" width="1.1" height="1.1"/><rect x="306.1" y="140.9" width="1.1" height="1.1"/><rect x="301.0" y="133.5" width="1.1" height="1.1"/><rect x="323.5" y="146.0" width="1.1" height="1.1"/><rect x="299.0" y="132.1" width="1.1" height="1.1"/><rect x="310.1" y="144.1" width="1.1" height="1.1"/><rect x="315.8" y="154.1" width="1.1" height="1.1"/><rect x="304.2" y="139.4" width="1.1" height="1.1"/><rect x="295.6" y="129.1" width="1.1" height="1.1"/><rect x="315.4" y="153.5" width="1.1" height="1.1"/><rect x="339.3" y="125.9" width="1.1" height="1.1"/><rect x="320.0" y="152.0" width="1.1" height="1.1"/><rect x="301.8" y="135.5" width="1.1" height="1.1"/><rect x="323.3" y="147.1" width="1.1" height="1.1"/><rect x="323.4" y="144.7" width="1.1" height="1.1"/><rect x="312.3" y="148.5" width="1.1" height="1.1"/><rect x="311.5" y="147.5" width="1.1" height="1.1"/><rect x="309.1" y="144.0" width="1.1" height="1.1"/><rect x="311.5" y="149.0" width="1.1" height="1.1"/><rect x="296.2" y="125.8" width="1.1" height="1.1"/><rect x="290.3" y="129.1" width="1.1" height="1.1"/><rect x="287.9" y="128.1" width="1.1" height="1.1"/><rect x="312.6" y="148.9" width="1.1" height="1.1"/><rect x="287.0" y="126.3" width="1.1" height="1.1"/><rect x="309.7" y="144.7" width="1.1" height="1.1"/><rect x="312.5" y="148.1" width="1.1" height="1.1"/><rect x="327.3" y="137.8" width="1.1" height="1.1"/><rect x="311.1" y="144.8" width="1.1" height="1.1"/><rect x="290.3" y="125.5" width="1.1" height="1.1"/><rect x="302.2" y="136.1" width="1.1" height="1.1"/><rect x="338.2" y="131.0" width="1.1" height="1.1"/><rect x="320.1" y="150.4" width="1.1" height="1.1"/><rect x="317.4" y="155.1" width="1.1" height="1.1"/><rect x="315.4" y="154.1" width="1.1" height="1.1"/><rect x="302.8" y="135.8" width="1.1" height="1.1"/><rect x="315.3" y="153.3" width="1.1" height="1.1"/><rect x="323.2" y="147.8" width="1.1" height="1.1"/><rect x="309.4" y="143.3" width="1.1" height="1.1"/><rect x="327.6" y="138.8" width="1.1" height="1.1"/><rect x="317.5" y="155.5" width="1.1" height="1.1"/><rect x="323.7" y="144.1" width="1.1" height="1.1"/><rect x="316.6" y="155.9" width="1.1" height="1.1"/><rect x="337.5" y="131.0" width="1.1" height="1.1"/><rect x="310.9" y="144.9" width="1.1" height="1.1"/><rect x="315.9" y="154.5" width="1.1" height="1.1"/><rect x="291.2" y="128.3" width="1.1" height="1.1"/><rect x="294.8" y="127.7" width="1.1" height="1.1"/><rect x="309.8" y="147.4" width="1.1" height="1.1"/><rect x="319.6" y="152.7" width="1.1" height="1.1"/><rect x="300.1" y="131.9" width="1.1" height="1.1"/><rect x="292.1" y="130.5" width="1.1" height="1.1"/><rect x="307.2" y="141.3" width="1.1" height="1.1"/><rect x="302.1" y="136.6" width="1.1" height="1.1"/><rect x="303.9" y="137.1" width="1.1" height="1.1"/><rect x="340.0" y="129.9" width="1.1" height="1.1"/><rect x="320.6" y="150.1" width="1.1" height="1.1"/><rect x="322.9" y="149.4" width="1.1" height="1.1"/><rect x="319.6" y="151.3" width="1.1" height="1.1"/><rect x="312.8" y="148.5" width="1.1" height="1.1"/><rect x="305.2" y="138.9" width="1.1" height="1.1"/><rect x="323.9" y="146.2" width="1.1" height="1.1"/><rect x="328.3" y="139.3" width="1.1" height="1.1"/><rect x="310.8" y="146.6" width="1.1" height="1.1"/><rect x="330.2" y="135.9" width="1.1" height="1.1"/><rect x="312.8" y="150.6" width="1.1" height="1.1"/><rect x="307.7" y="141.1" width="1.1" height="1.1"/><rect x="331.0" y="137.2" width="1.1" height="1.1"/><rect x="333.3" y="131.3" width="1.1" height="1.1"/><rect x="319.4" y="152.1" width="1.1" height="1.1"/><rect x="301.5" y="131.5" width="1.1" height="1.1"/><rect x="320.2" y="152.1" width="1.1" height="1.1"/><rect x="306.1" y="140.4" width="1.1" height="1.1"/><rect x="297.2" y="128.7" width="1.1" height="1.1"/><rect x="316.1" y="154.0" width="1.1" height="1.1"/><rect x="340.5" y="126.1" width="1.1" height="1.1"/><rect x="296.1" y="131.3" width="1.1" height="1.1"/><rect x="304.9" y="134.0" width="1.1" height="1.1"/><rect x="322.9" y="145.3" width="1.1" height="1.1"/><rect x="345.1" y="128.7" width="1.1" height="1.1"/><rect x="325.8" y="142.1" width="1.1" height="1.1"/><rect x="290.4" y="127.9" width="1.1" height="1.1"/><rect x="305.6" y="137.2" width="1.1" height="1.1"/><rect x="316.5" y="154.9" width="1.1" height="1.1"/><rect x="330.6" y="136.6" width="1.1" height="1.1"/><rect x="289.9" y="128.7" width="1.1" height="1.1"/><rect x="310.9" y="148.0" width="1.1" height="1.1"/><rect x="324.4" y="145.1" width="1.1" height="1.1"/><rect x="306.8" y="138.3" width="1.1" height="1.1"/><rect x="328.4" y="139.7" width="1.1" height="1.1"/><rect x="326.1" y="144.7" width="1.1" height="1.1"/><rect x="327.5" y="138.4" width="1.1" height="1.1"/><rect x="315.8" y="153.6" width="1.1" height="1.1"/><rect x="302.7" y="133.3" width="1.1" height="1.1"/><rect x="327.5" y="140.3" width="1.1" height="1.1"/><rect x="344.9" y="126.0" width="1.1" height="1.1"/><rect x="303.4" y="133.2" width="1.1" height="1.1"/><rect x="328.8" y="137.2" width="1.1" height="1.1"/><rect x="310.9" y="144.9" width="1.1" height="1.1"/><rect x="313.2" y="149.1" width="1.1" height="1.1"/><rect x="317.2" y="156.0" width="1.1" height="1.1"/><rect x="307.3" y="140.1" width="1.1" height="1.1"/><rect x="311.6" y="146.9" width="1.1" height="1.1"/><rect x="327.6" y="137.0" width="1.1" height="1.1"/><rect x="316.3" y="155.6" width="1.1" height="1.1"/><rect x="307.6" y="142.3" width="1.1" height="1.1"/><rect x="338.9" y="129.4" width="1.1" height="1.1"/><rect x="312.5" y="148.0" width="1.1" height="1.1"/><rect x="337.7" y="131.0" width="1.1" height="1.1"/><rect x="327.1" y="138.4" width="1.1" height="1.1"/><rect x="296.5" y="128.4" width="1.1" height="1.1"/><rect x="316.7" y="155.3" width="1.1" height="1.1"/><rect x="316.4" y="154.3" width="1.1" height="1.1"/><rect x="307.9" y="139.2" width="1.1" height="1.1"/><rect x="322.1" y="150.0" width="1.1" height="1.1"/><rect x="319.9" y="150.7" width="1.1" height="1.1"/><rect x="330.5" y="136.9" width="1.1" height="1.1"/><rect x="317.6" y="155.9" width="1.1" height="1.1"/><rect x="324.7" y="141.8" width="1.1" height="1.1"/><rect x="339.9" y="125.6" width="1.1" height="1.1"/><rect x="317.9" y="154.9" width="1.1" height="1.1"/><rect x="344.7" y="127.8" width="1.1" height="1.1"/><rect x="323.1" y="147.9" width="1.1" height="1.1"/><rect x="340.4" y="128.0" width="1.1" height="1.1"/><rect x="295.4" y="127.7" width="1.1" height="1.1"/><rect x="308.2" y="140.6" width="1.1" height="1.1"/><rect x="310.6" y="148.9" width="1.1" height="1.1"/><rect x="330.7" y="133.3" width="1.1" height="1.1"/><rect x="309.6" y="144.2" width="1.1" height="1.1"/><rect x="338.5" y="130.0" width="1.1" height="1.1"/><rect x="305.1" y="139.8" width="1.1" height="1.1"/><rect x="308.1" y="142.7" width="1.1" height="1.1"/><rect x="310.9" y="146.7" width="1.1" height="1.1"/><rect x="307.2" y="138.2" width="1.1" height="1.1"/><rect x="316.4" y="155.2" width="1.1" height="1.1"/><rect x="313.0" y="151.1" width="1.1" height="1.1"/><rect x="316.3" y="155.1" width="1.1" height="1.1"/><rect x="303.0" y="136.7" width="1.1" height="1.1"/><rect x="317.8" y="154.1" width="1.1" height="1.1"/><rect x="287.5" y="126.9" width="1.1" height="1.1"/><rect x="330.6" y="133.0" width="1.1" height="1.1"/><rect x="313.5" y="149.8" width="1.1" height="1.1"/><rect x="288.0" y="127.1" width="1.1" height="1.1"/><rect x="329.4" y="136.8" width="1.1" height="1.1"/><rect x="314.5" y="152.0" width="1.1" height="1.1"/><rect x="322.3" y="145.8" width="1.1" height="1.1"/><rect x="321.2" y="148.2" width="1.1" height="1.1"/><rect x="335.2" y="132.8" width="1.1" height="1.1"/><rect x="330.6" y="137.7" width="1.1" height="1.1"/><rect x="303.2" y="137.2" width="1.1" height="1.1"/><rect x="316.6" y="155.1" width="1.1" height="1.1"/><rect x="301.4" y="134.5" width="1.1" height="1.1"/><rect x="334.7" y="130.8" width="1.1" height="1.1"/><rect x="316.7" y="156.0" width="1.1" height="1.1"/><rect x="304.2" y="133.1" width="1.1" height="1.1"/><rect x="327.2" y="141.1" width="1.1" height="1.1"/><rect x="337.9" y="130.8" width="1.1" height="1.1"/><rect x="343.4" y="126.8" width="1.1" height="1.1"/><rect x="312.6" y="151.2" width="1.1" height="1.1"/><rect x="312.9" y="149.0" width="1.1" height="1.1"/><rect x="304.3" y="136.6" width="1.1" height="1.1"/><rect x="290.0" y="125.8" width="1.1" height="1.1"/><rect x="325.5" y="145.2" width="1.1" height="1.1"/><rect x="293.6" y="128.8" width="1.1" height="1.1"/><rect x="328.3" y="136.3" width="1.1" height="1.1"/><rect x="311.7" y="148.0" width="1.1" height="1.1"/><rect x="289.2" y="129.0" width="1.1" height="1.1"/><rect x="314.5" y="152.2" width="1.1" height="1.1"/><rect x="309.1" y="146.1" width="1.1" height="1.1"/><rect x="324.4" y="142.3" width="1.1" height="1.1"/><rect x="325.8" y="142.7" width="1.1" height="1.1"/><rect x="319.9" y="152.2" width="1.1" height="1.1"/><rect x="304.2" y="134.8" width="1.1" height="1.1"/><rect x="299.3" y="133.0" width="1.1" height="1.1"/><rect x="343.6" y="126.3" width="1.1" height="1.1"/><rect x="310.5" y="145.4" width="1.1" height="1.1"/><rect x="313.5" y="150.3" width="1.1" height="1.1"/><rect x="304.4" y="136.0" width="1.1" height="1.1"/><rect x="344.9" y="126.0" width="1.1" height="1.1"/><rect x="309.9" y="142.8" width="1.1" height="1.1"/><rect x="339.2" y="128.2" width="1.1" height="1.1"/><rect x="310.9" y="144.2" width="1.1" height="1.1"/><rect x="340.5" y="130.0" width="1.1" height="1.1"/><rect x="326.4" y="140.8" width="1.1" height="1.1"/><rect x="319.1" y="151.7" width="1.1" height="1.1"/><rect x="322.7" y="148.7" width="1.1" height="1.1"/><rect x="330.2" y="138.1" width="1.1" height="1.1"/><rect x="302.5" y="135.7" width="1.1" height="1.1"/><rect x="329.4" y="136.5" width="1.1" height="1.1"/><rect x="310.3" y="148.1" width="1.1" height="1.1"/><rect x="322.8" y="148.7" width="1.1" height="1.1"/><rect x="331.3" y="136.8" width="1.1" height="1.1"/><rect x="307.1" y="141.3" width="1.1" height="1.1"/><rect x="307.4" y="143.6" width="1.1" height="1.1"/><rect x="310.6" y="146.0" width="1.1" height="1.1"/><rect x="309.4" y="141.1" width="1.1" height="1.1"/><rect x="305.4" y="139.5" width="1.1" height="1.1"/><rect x="291.1" y="127.0" width="1.1" height="1.1"/><rect x="319.1" y="153.0" width="1.1" height="1.1"/><rect x="301.5" y="134.1" width="1.1" height="1.1"/><rect x="336.7" y="130.7" width="1.1" height="1.1"/><rect x="286.4" y="127.1" width="1.1" height="1.1"/><rect x="312.4" y="150.5" width="1.1" height="1.1"/><rect x="306.0" y="137.3" width="1.1" height="1.1"/><rect x="311.0" y="144.4" width="1.1" height="1.1"/><rect x="325.7" y="143.3" width="1.1" height="1.1"/><rect x="328.4" y="135.4" width="1.1" height="1.1"/><rect x="324.6" y="146.8" width="1.1" height="1.1"/><rect x="304.6" y="140.0" width="1.1" height="1.1"/><rect x="339.7" y="126.7" width="1.1" height="1.1"/><rect x="313.7" y="152.1" width="1.1" height="1.1"/><rect x="330.4" y="136.7" width="1.1" height="1.1"/><rect x="303.2" y="134.0" width="1.1" height="1.1"/><rect x="329.5" y="136.5" width="1.1" height="1.1"/><rect x="310.0" y="147.1" width="1.1" height="1.1"/><rect x="308.8" y="141.7" width="1.1" height="1.1"/><rect x="326.1" y="144.6" width="1.1" height="1.1"/><rect x="327.8" y="135.3" width="1.1" height="1.1"/><rect x="330.8" y="134.0" width="1.1" height="1.1"/><rect x="330.0" y="136.1" width="1.1" height="1.1"/><rect x="308.0" y="143.0" width="1.1" height="1.1"/><rect x="325.4" y="145.0" width="1.1" height="1.1"/><rect x="318.3" y="154.3" width="1.1" height="1.1"/><rect x="320.2" y="151.8" width="1.1" height="1.1"/><rect x="316.8" y="155.6" width="1.1" height="1.1"/><rect x="318.0" y="153.9" width="1.1" height="1.1"/><rect x="314.3" y="153.0" width="1.1" height="1.1"/><rect x="320.7" y="150.4" width="1.1" height="1.1"/><rect x="320.8" y="151.4" width="1.1" height="1.1"/><rect x="312.9" y="150.9" width="1.1" height="1.1"/><rect x="338.3" y="128.7" width="1.1" height="1.1"/><rect x="301.5" y="134.9" width="1.1" height="1.1"/><rect x="340.8" y="126.1" width="1.1" height="1.1"/><rect x="333.1" y="118.5" width="1.1" height="1.1"/><rect x="296.4" y="124.6" width="1.1" height="1.1"/><rect x="296.2" y="111.0" width="1.1" height="1.1"/><rect x="302.1" y="114.4" width="1.1" height="1.1"/><rect x="340.7" y="126.9" width="1.1" height="1.1"/><rect x="346.6" y="128.3" width="1.1" height="1.1"/><rect x="340.2" y="116.1" width="1.1" height="1.1"/><rect x="343.2" y="118.7" width="1.1" height="1.1"/><rect x="304.4" y="125.1" width="1.1" height="1.1"/><rect x="330.6" y="127.1" width="1.1" height="1.1"/><rect x="299.9" y="123.4" width="1.1" height="1.1"/><rect x="290.4" y="111.7" width="1.1" height="1.1"/><rect x="334.8" y="123.3" width="1.1" height="1.1"/><rect x="346.2" y="123.9" width="1.1" height="1.1"/><rect x="332.3" y="128.7" width="1.1" height="1.1"/><rect x="291.1" y="113.8" width="1.1" height="1.1"/><rect x="338.6" y="122.4" width="1.1" height="1.1"/><rect x="304.2" y="126.2" width="1.1" height="1.1"/><rect x="291.0" y="125.2" width="1.1" height="1.1"/><rect x="293.9" y="125.3" width="1.1" height="1.1"/><rect x="301.2" y="126.3" width="1.1" height="1.1"/><rect x="303.2" y="127.8" width="1.1" height="1.1"/><rect x="288.8" y="126.9" width="1.1" height="1.1"/><rect x="291.1" y="123.3" width="1.1" height="1.1"/><rect x="332.2" y="128.1" width="1.1" height="1.1"/><rect x="296.2" y="111.7" width="1.1" height="1.1"/><rect x="339.1" y="126.4" width="1.1" height="1.1"/><rect x="293.0" y="108.3" width="1.1" height="1.1"/><rect x="296.6" y="126.5" width="1.1" height="1.1"/><rect x="332.7" y="128.2" width="1.1" height="1.1"/><rect x="304.8" y="122.5" width="1.1" height="1.1"/><rect x="301.1" y="118.9" width="1.1" height="1.1"/><rect x="341.6" y="113.6" width="1.1" height="1.1"/><rect x="288.7" y="113.3" width="1.1" height="1.1"/><rect x="292.1" y="115.7" width="1.1" height="1.1"/><rect x="337.1" y="127.8" width="1.1" height="1.1"/><rect x="292.3" y="128.3" width="1.1" height="1.1"/><rect x="298.1" y="116.3" width="1.1" height="1.1"/><rect x="339.7" y="109.2" width="1.1" height="1.1"/><rect x="337.2" y="108.9" width="1.1" height="1.1"/><rect x="298.6" y="125.1" width="1.1" height="1.1"/><rect x="337.4" y="126.3" width="1.1" height="1.1"/><rect x="342.8" y="122.6" width="1.1" height="1.1"/><rect x="294.0" y="123.9" width="1.1" height="1.1"/><rect x="344.3" y="129.5" width="1.1" height="1.1"/><rect x="294.3" y="119.8" width="1.1" height="1.1"/><rect x="298.3" y="125.3" width="1.1" height="1.1"/><rect x="290.7" y="128.5" width="1.1" height="1.1"/><rect x="333.7" y="109.8" width="1.1" height="1.1"/><rect x="299.9" y="110.4" width="1.1" height="1.1"/><rect x="300.1" y="123.8" width="1.1" height="1.1"/><rect x="335.1" y="117.3" width="1.1" height="1.1"/><rect x="332.5" y="122.9" width="1.1" height="1.1"/><rect x="299.5" y="120.5" width="1.1" height="1.1"/><rect x="288.6" y="128.4" width="1.1" height="1.1"/><rect x="337.1" y="112.1" width="1.1" height="1.1"/><rect x="300.9" y="110.3" width="1.1" height="1.1"/><rect x="337.4" y="124.7" width="1.1" height="1.1"/><rect x="303.3" y="127.5" width="1.1" height="1.1"/><rect x="336.0" y="125.5" width="1.1" height="1.1"/><rect x="288.7" y="110.9" width="1.1" height="1.1"/><rect x="340.1" y="128.5" width="1.1" height="1.1"/><rect x="298.9" y="128.1" width="1.1" height="1.1"/><rect x="301.4" y="125.5" width="1.1" height="1.1"/><rect x="300.3" y="126.5" width="1.1" height="1.1"/><rect x="342.5" y="122.7" width="1.1" height="1.1"/><rect x="343.8" y="108.3" width="1.1" height="1.1"/><rect x="330.4" y="117.2" width="1.1" height="1.1"/><rect x="337.5" y="123.2" width="1.1" height="1.1"/><rect x="345.2" y="128.9" width="1.1" height="1.1"/><rect x="338.9" y="122.8" width="1.1" height="1.1"/><rect x="332.2" y="126.9" width="1.1" height="1.1"/><rect x="287.4" y="127.8" width="1.1" height="1.1"/><rect x="345.6" y="117.3" width="1.1" height="1.1"/><rect x="290.2" y="112.5" width="1.1" height="1.1"/><rect x="329.9" y="113.2" width="1.1" height="1.1"/><rect x="293.0" y="116.5" width="1.1" height="1.1"/><rect x="296.7" y="120.6" width="1.1" height="1.1"/><rect x="337.4" y="123.7" width="1.1" height="1.1"/><rect x="288.8" y="126.2" width="1.1" height="1.1"/><rect x="290.9" y="111.6" width="1.1" height="1.1"/><rect x="288.5" y="123.2" width="1.1" height="1.1"/><rect x="291.2" y="123.0" width="1.1" height="1.1"/><rect x="343.8" y="126.3" width="1.1" height="1.1"/><rect x="334.6" y="126.2" width="1.1" height="1.1"/><rect x="331.5" y="127.4" width="1.1" height="1.1"/><rect x="338.7" y="110.8" width="1.1" height="1.1"/><rect x="336.3" y="128.0" width="1.1" height="1.1"/><rect x="334.8" y="118.5" width="1.1" height="1.1"/><rect x="337.0" y="125.4" width="1.1" height="1.1"/><rect x="293.8" y="123.0" width="1.1" height="1.1"/><rect x="343.7" y="113.2" width="1.1" height="1.1"/><rect x="336.6" y="123.7" width="1.1" height="1.1"/><rect x="303.2" y="110.3" width="1.1" height="1.1"/><rect x="290.3" y="128.5" width="1.1" height="1.1"/><rect x="297.2" y="118.1" width="1.1" height="1.1"/><rect x="329.0" y="125.8" width="1.1" height="1.1"/><rect x="298.6" y="120.2" width="1.1" height="1.1"/><rect x="339.0" y="124.9" width="1.1" height="1.1"/><rect x="292.4" y="126.9" width="1.1" height="1.1"/><rect x="289.3" y="124.1" width="1.1" height="1.1"/><rect x="301.3" y="124.5" width="1.1" height="1.1"/><rect x="294.7" y="127.2" width="1.1" height="1.1"/><rect x="343.8" y="125.9" width="1.1" height="1.1"/><rect x="334.9" y="123.4" width="1.1" height="1.1"/><rect x="330.5" y="113.0" width="1.1" height="1.1"/><rect x="289.6" y="124.8" width="1.1" height="1.1"/><rect x="329.6" y="125.5" width="1.1" height="1.1"/><rect x="298.7" y="122.7" width="1.1" height="1.1"/><rect x="306.7" y="132.8" width="1.1" height="1.1"/><rect x="310.8" y="128.9" width="1.1" height="1.1"/><rect x="326.8" y="129.3" width="1.1" height="1.1"/><rect x="325.8" y="131.0" width="1.1" height="1.1"/><rect x="326.5" y="133.3" width="1.1" height="1.1"/><rect x="307.6" y="129.7" width="1.1" height="1.1"/><rect x="315.7" y="135.5" width="1.1" height="1.1"/><rect x="324.2" y="134.6" width="1.1" height="1.1"/><rect x="310.8" y="135.0" width="1.1" height="1.1"/><rect x="319.8" y="134.3" width="1.1" height="1.1"/><rect x="312.4" y="131.2" width="1.1" height="1.1"/><rect x="327.9" y="135.5" width="1.1" height="1.1"/><rect x="327.2" y="129.7" width="1.1" height="1.1"/><rect x="311.2" y="128.9" width="1.1" height="1.1"/><rect x="320.2" y="131.9" width="1.1" height="1.1"/><rect x="310.7" y="132.1" width="1.1" height="1.1"/><rect x="313.4" y="134.9" width="1.1" height="1.1"/><rect x="309.3" y="133.5" width="1.1" height="1.1"/><rect x="316.1" y="130.9" width="1.1" height="1.1"/><rect x="323.2" y="134.8" width="1.1" height="1.1"/><rect x="307.9" y="128.5" width="1.1" height="1.1"/><rect x="317.9" y="133.8" width="1.1" height="1.1"/><rect x="310.4" y="130.2" width="1.1" height="1.1"/><rect x="316.0" y="132.5" width="1.1" height="1.1"/><rect x="327.7" y="135.5" width="1.1" height="1.1"/><rect x="320.2" y="130.0" width="1.1" height="1.1"/><rect x="319.3" y="130.8" width="1.1" height="1.1"/><rect x="305.8" y="127.8" width="1.1" height="1.1"/><rect x="306.2" y="132.7" width="1.1" height="1.1"/><rect x="314.6" y="128.9" width="1.1" height="1.1"/><rect x="322.1" y="128.8" width="1.1" height="1.1"/><rect x="318.5" y="127.7" width="1.1" height="1.1"/><rect x="312.7" y="132.4" width="1.1" height="1.1"/><rect x="318.4" y="133.0" width="1.1" height="1.1"/><rect x="308.5" y="130.1" width="1.1" height="1.1"/><rect x="313.4" y="128.6" width="1.1" height="1.1"/><rect x="320.9" y="135.6" width="1.1" height="1.1"/><rect x="307.6" y="134.2" width="1.1" height="1.1"/><rect x="312.7" y="134.1" width="1.1" height="1.1"/><rect x="321.0" y="133.9" width="1.1" height="1.1"/><rect x="316.4" y="126.2" width="1.1" height="1.1"/><rect x="320.5" y="125.0" width="1.1" height="1.1"/><rect x="313.7" y="113.7" width="1.1" height="1.1"/><rect x="320.4" y="133.8" width="1.1" height="1.1"/><rect x="319.6" y="121.4" width="1.1" height="1.1"/><rect x="320.0" y="121.3" width="1.1" height="1.1"/><rect x="317.9" y="117.4" width="1.1" height="1.1"/><rect x="313.6" y="132.5" width="1.1" height="1.1"/><rect x="314.2" y="134.4" width="1.1" height="1.1"/><rect x="315.1" y="133.8" width="1.1" height="1.1"/><rect x="314.2" y="127.2" width="1.1" height="1.1"/><rect x="314.6" y="133.4" width="1.1" height="1.1"/><rect x="320.2" y="115.0" width="1.1" height="1.1"/><rect x="319.8" y="132.9" width="1.1" height="1.1"/><rect x="317.6" y="114.7" width="1.1" height="1.1"/><rect x="316.5" y="123.7" width="1.1" height="1.1"/>
</g>
<g fill="#2946a8">
<circle cx="269.2" cy="97.4" r="0.8"/><circle cx="270.4" cy="98.3" r="0.8"/><circle cx="272.1" cy="99.6" r="0.8"/><circle cx="271.5" cy="101.9" r="0.8"/><circle cx="272.6" cy="103.0" r="0.8"/><circle cx="276.0" cy="95.7" r="0.8"/><circle cx="278.2" cy="96.2" r="0.8"/><circle cx="282.2" cy="94.6" r="0.8"/><circle cx="283.9" cy="95.1" r="0.8"/><circle cx="277.7" cy="99.6" r="0.8"/><circle cx="280.0" cy="100.7" r="0.8"/><circle cx="285.0" cy="101.9" r="0.8"/><circle cx="286.7" cy="103.0" r="0.8"/><circle cx="285.6" cy="105.8" r="0.8"/><circle cx="287.2" cy="107.5" r="0.8"/><circle cx="274.9" cy="108.6" r="0.8"/><circle cx="273.7" cy="110.3" r="0.8"/><circle cx="267.0" cy="110.9" r="0.8"/><circle cx="268.7" cy="112.6" r="0.8"/><circle cx="268.1" cy="115.4" r="0.8"/><circle cx="272.6" cy="112.6" r="0.8"/><circle cx="273.7" cy="115.4" r="0.8"/><circle cx="277.7" cy="113.1" r="0.8"/><circle cx="280.5" cy="112.0" r="0.8"/><circle cx="281.6" cy="114.8" r="0.8"/><circle cx="278.2" cy="117.6" r="0.8"/><circle cx="276.0" cy="118.7" r="0.8"/><circle cx="277.1" cy="121.0" r="0.8"/><circle cx="280.5" cy="118.7" r="0.8"/><circle cx="282.2" cy="119.9" r="0.8"/><circle cx="283.3" cy="117.6" r="0.8"/><circle cx="285.0" cy="118.7" r="0.8"/><circle cx="283.9" cy="122.1" r="0.8"/><circle cx="282.2" cy="123.8" r="0.8"/><circle cx="285.6" cy="123.8" r="0.8"/><circle cx="286.7" cy="120.4" r="0.8"/><circle cx="281.1" cy="124.9" r="0.8"/><circle cx="283.9" cy="125.5" r="0.8"/><circle cx="286.1" cy="126.1" r="0.8"/><circle cx="287.8" cy="124.4" r="0.8"/><circle cx="282.2" cy="127.2" r="0.8"/><circle cx="285.0" cy="127.2" r="0.8"/><circle cx="279.4" cy="122.1" r="0.8"/><circle cx="271.5" cy="119.9" r="0.8"/><circle cx="270.4" cy="122.1" r="0.8"/><circle cx="274.9" cy="123.8" r="0.8"/><circle cx="277.7" cy="126.1" r="0.8"/><circle cx="286.1" cy="113.1" r="0.8"/><circle cx="287.2" cy="115.4" r="0.8"/><circle cx="283.3" cy="109.7" r="0.8"/><circle cx="285.0" cy="99.6" r="0.8"/><circle cx="287.8" cy="98.5" r="0.8"/><circle cx="287.8" cy="91.7" r="0.8"/><circle cx="287.8" cy="88.4" r="0.8"/><circle cx="282.2" cy="92.8" r="0.8"/><circle cx="267.0" cy="67.1" r="0.8"/><circle cx="270.6" cy="67.8" r="0.8"/><circle cx="277.4" cy="77.3" r="0.8"/><circle cx="285.6" cy="80.4" r="0.8"/><circle cx="287.0" cy="78.7" r="0.8"/><circle cx="353.1" cy="81.0" r="0.8"/><circle cx="359.7" cy="103.2" r="0.8"/><circle cx="349.4" cy="105.0" r="0.8"/><circle cx="358.8" cy="114.8" r="0.8"/><circle cx="351.3" cy="115.9" r="0.8"/><circle cx="356.9" cy="119.7" r="0.8"/><circle cx="354.0" cy="120.4" r="0.8"/><circle cx="349.0" cy="120.0" r="0.8"/><circle cx="358.4" cy="121.0" r="0.8"/><circle cx="351.3" cy="123.8" r="0.8"/><circle cx="350.0" cy="126.0" r="0.8"/><circle cx="348.6" cy="110.0" r="0.8"/><circle cx="349.5" cy="127.3" r="0.8"/><circle cx="286.8" cy="127.0" r="0.8"/><circle cx="284.6" cy="117.2" r="0.8"/><circle cx="285.7" cy="124.3" r="0.8"/><circle cx="282.5" cy="119.9" r="0.8"/><circle cx="285.4" cy="116.4" r="0.8"/><circle cx="283.2" cy="121.4" r="0.8"/><circle cx="283.1" cy="126.6" r="0.8"/><circle cx="282.7" cy="120.3" r="0.8"/><circle cx="286.3" cy="113.5" r="0.8"/><circle cx="282.9" cy="115.9" r="0.8"/><circle cx="284.4" cy="127.8" r="0.8"/><circle cx="283.3" cy="127.1" r="0.8"/><circle cx="281.7" cy="127.6" r="0.8"/><circle cx="282.8" cy="118.0" r="0.8"/><circle cx="282.4" cy="126.4" r="0.8"/><circle cx="282.0" cy="113.9" r="0.8"/><circle cx="280.7" cy="121.4" r="0.8"/><circle cx="284.8" cy="118.3" r="0.8"/><circle cx="285.2" cy="120.9" r="0.8"/><circle cx="286.4" cy="118.4" r="0.8"/><circle cx="285.9" cy="121.0" r="0.8"/><circle cx="287.5" cy="123.4" r="0.8"/><circle cx="287.1" cy="119.4" r="0.8"/><circle cx="285.2" cy="115.1" r="0.8"/><circle cx="281.9" cy="122.3" r="0.8"/><circle cx="282.5" cy="125.8" r="0.8"/><circle cx="281.2" cy="126.1" r="0.8"/><circle cx="287.0" cy="128.2" r="0.8"/><circle cx="282.4" cy="122.6" r="0.8"/><circle cx="285.0" cy="123.8" r="0.8"/><circle cx="283.4" cy="114.6" r="0.8"/><circle cx="283.4" cy="121.4" r="0.8"/><circle cx="281.3" cy="119.1" r="0.8"/><circle cx="287.5" cy="115.3" r="0.8"/><circle cx="286.5" cy="117.3" r="0.8"/><circle cx="284.9" cy="114.7" r="0.8"/><circle cx="286.5" cy="123.6" r="0.8"/><circle cx="282.5" cy="118.4" r="0.8"/><circle cx="283.0" cy="121.0" r="0.8"/><circle cx="284.7" cy="122.9" r="0.8"/><circle cx="280.5" cy="124.4" r="0.8"/><circle cx="287.5" cy="118.8" r="0.8"/><circle cx="282.6" cy="121.2" r="0.8"/><circle cx="286.2" cy="119.7" r="0.8"/><circle cx="283.2" cy="116.5" r="0.8"/><circle cx="286.3" cy="118.1" r="0.8"/><circle cx="287.4" cy="122.3" r="0.8"/><circle cx="282.2" cy="118.0" r="0.8"/><circle cx="287.4" cy="126.6" r="0.8"/><circle cx="287.3" cy="113.4" r="0.8"/><circle cx="282.3" cy="126.7" r="0.8"/><circle cx="282.6" cy="121.2" r="0.8"/><circle cx="282.7" cy="122.5" r="0.8"/><circle cx="283.6" cy="125.6" r="0.8"/><circle cx="285.7" cy="119.6" r="0.8"/><circle cx="280.8" cy="105.0" r="0.8"/><circle cx="283.5" cy="115.0" r="0.8"/><circle cx="275.1" cy="105.7" r="0.8"/><circle cx="277.9" cy="114.0" r="0.8"/><circle cx="281.3" cy="119.8" r="0.8"/><circle cx="286.7" cy="107.7" r="0.8"/><circle cx="277.4" cy="114.2" r="0.8"/><circle cx="280.1" cy="122.6" r="0.8"/><circle cx="286.3" cy="118.3" r="0.8"/><circle cx="283.7" cy="122.1" r="0.8"/><circle cx="276.2" cy="112.8" r="0.8"/><circle cx="279.6" cy="105.8" r="0.8"/><circle cx="278.9" cy="108.3" r="0.8"/><circle cx="283.3" cy="111.2" r="0.8"/><circle cx="279.3" cy="126.7" r="0.8"/>
</g>
<path d="M206.40 128.60H385.90" stroke="#5fc65a" stroke-width="0.9" stroke-dasharray="3 2.4" fill="none"/>
<path d="M287.5 9.00V164.10M347.6 9.00V164.10" stroke="#8c58c8" stroke-width="1.1" stroke-dasharray="3 2.6" fill="none"/>
<g fill="#111">
<circle cx="214.30" cy="21.40" r="0.75"/><circle cx="243.80" cy="15.90" r="0.75"/><circle cx="251.50" cy="21.80" r="0.75"/><circle cx="266.00" cy="35.30" r="0.75"/><circle cx="240.00" cy="38.60" r="0.75"/><circle cx="254.60" cy="38.60" r="0.75"/><circle cx="250.50" cy="63.00" r="0.75"/><circle cx="253.00" cy="69.30" r="0.75"/><circle cx="262.10" cy="83.10" r="0.75"/><circle cx="370.40" cy="78.40" r="0.75"/><circle cx="231.00" cy="37.50" r="0.75"/>
</g>
<path d="M247.6 58.8L250.5 62.8M270.5 91.6L264 99M253 103.7L259.5 103.2M271 121.4L273.5 123.6M274 127.2L276.5 127.9" stroke="#222" stroke-width="0.4" fill="none"/>
<g font-family="Liberation Sans, Arial, sans-serif" font-size="5.0" fill="#111">
<text x="238.0" y="13.6">LGALS17A</text>
<text x="250.0" y="26.9">CXCL9</text>
<text x="264.9" y="33.7">BATF2</text>
<text x="225.2" y="36.8">APOBEC3A</text>
<text x="217.4" y="43.4">APOBEC3A_B</text>
<text x="255.6" y="43.4">IFNG</text>
<text x="235.5" y="58.6">CXCL13</text>
<text x="268.4" y="58.0">CXCR6</text>
<text x="254.8" y="65.3">KLHDC7B</text>
<text x="231.3" y="72.5">CALHM6</text>
<text x="271.1" y="72.5">IDO1</text>
<text x="246.7" y="83.2">GZMB</text>
<text x="270.6" y="90.7">GBP5</text>
<text x="259.0" y="95.3">AIM2</text>
<text x="242.2" y="100.7">CXCL11</text>
<text x="232.2" y="105.6">DNAJC5B</text>
<text x="254.8" y="107.9">CD80</text>
<text x="252.7" y="120.8">PPIAP45</text>
<text x="256.3" y="126.7">FCGR3A</text>
<text x="354.1" y="75.9" font-size="4.75">ST6GALNAC1</text>
</g>
<rect x="206.4" y="9.0" width="179.5" height="155.1" fill="none" stroke="#666" stroke-width="0.8"/>
<path d="M205.10 155.60H206.40M205.10 104.65H206.40M205.10 53.70H206.40M257.60 164.10V165.40M317.50 164.10V165.40M377.40 164.10V165.40" stroke="#555" stroke-width="0.6" fill="none"/>
<g font-family="Liberation Sans, Arial, sans-serif" font-size="5.6" fill="#444">
<text x="204.80" y="157.60" text-anchor="end">0</text>
<text x="204.80" y="106.65" text-anchor="end">5</text>
<text x="204.80" y="55.70" text-anchor="end">10</text>
<text x="257.60" y="170.00" text-anchor="middle">-2</text>
<text x="317.50" y="170.00" text-anchor="middle">0</text>
<text x="377.40" y="170.00" text-anchor="middle">2</text>
</g>
<text x="296.2" y="178.3" text-anchor="middle" font-family="Liberation Sans, Arial, sans-serif" font-size="7" fill="#222">log<tspan font-size="4.6" dy="1.6">2</tspan><tspan dy="-1.6">(Fold Change)</tspan></text>
<text transform="translate(197.2 82.5) rotate(-90)" text-anchor="middle" font-family="Liberation Sans, Arial, sans-serif" font-size="5.7" fill="#222">-log<tspan font-size="3.9" dy="1.3">10</tspan><tspan dy="-1.3">(P-value)</tspan></text>
<rect x="229.00" y="191.90" width="54.80" height="12.00" fill="#d9d9d9" stroke="#333" stroke-width="0.8"/>
<text x="256.40" y="200.30" text-anchor="middle" font-family="Liberation Sans, Arial, sans-serif" font-size="6.85" fill="#1a1a1a">APOBEC3A</text>
<rect x="229.00" y="203.90" width="54.80" height="81.70" fill="#fff"/>
<path d="M229.00 283.20H283.80M229.00 264.50H283.80M229.00 245.80H283.80M229.00 227.10H283.80M229.00 208.40H283.80M237.90 203.90V285.60M276.20 203.90V285.60" stroke="#ebebeb" stroke-width="0.6" fill="none"/>
<path d="M237.90 207.90L276.20 214.60" stroke="#d7191c" stroke-width="0.9" fill="none"/>
<path d="M237.90 215.10L276.20 227.50" stroke="#2b83ba" stroke-width="0.9" fill="none"/>
<path d="M237.90 209.00L276.20 251.40" stroke="#d7191c" stroke-width="0.9" fill="none"/>
<path d="M237.90 210.10L276.20 255.90" stroke="#d7191c" stroke-width="0.9" fill="none"/>
<path d="M237.90 208.30L276.20 246.20" stroke="#d7191c" stroke-width="0.9" fill="none"/>
<path d="M237.90 224.10L276.20 236.50" stroke="#d7191c" stroke-width="0.9" fill="none"/>
<path d="M237.90 225.50L276.20 253.60" stroke="#d7191c" stroke-width="0.9" fill="none"/>
<path d="M237.90 226.40L276.20 258.10" stroke="#d7191c" stroke-width="0.9" fill="none"/>
<path d="M237.90 236.00L276.20 251.40" stroke="#d7191c" stroke-width="0.9" fill="none"/>
<path d="M237.90 246.80L276.20 280.60" stroke="#2b83ba" stroke-width="0.9" fill="none"/>
<path d="M237.90 253.60L276.20 280.60" stroke="#2b83ba" stroke-width="0.9" fill="none"/>
<circle cx="237.90" cy="207.90" r="1.7" fill="#d7191c"/><circle cx="276.20" cy="214.60" r="1.7" fill="#d7191c"/>
<circle cx="237.90" cy="215.10" r="1.7" fill="#2b83ba"/><circle cx="276.20" cy="227.50" r="1.7" fill="#2b83ba"/>
<circle cx="237.90" cy="209.00" r="1.7" fill="#d7191c"/><circle cx="276.20" cy="251.40" r="1.7" fill="#d7191c"/>
<circle cx="237.90" cy="210.10" r="1.7" fill="#d7191c"/><circle cx="276.20" cy="255.90" r="1.7" fill="#d7191c"/>
<circle cx="237.90" cy="208.30" r="1.7" fill="#d7191c"/><circle cx="276.20" cy="246.20" r="1.7" fill="#d7191c"/>
<circle cx="237.90" cy="224.10" r="1.7" fill="#d7191c"/><circle cx="276.20" cy="236.50" r="1.7" fill="#d7191c"/>
<circle cx="237.90" cy="225.50" r="1.7" fill="#d7191c"/><circle cx="276.20" cy="253.60" r="1.7" fill="#d7191c"/>
<circle cx="237.90" cy="226.40" r="1.7" fill="#d7191c"/><circle cx="276.20" cy="258.10" r="1.7" fill="#d7191c"/>
<circle cx="237.90" cy="236.00" r="1.7" fill="#d7191c"/><circle cx="276.20" cy="251.40" r="1.7" fill="#d7191c"/>
<circle cx="237.90" cy="246.80" r="1.7" fill="#2b83ba"/><circle cx="276.20" cy="280.60" r="1.7" fill="#2b83ba"/>
<circle cx="237.90" cy="253.60" r="1.7" fill="#2b83ba"/><circle cx="276.20" cy="280.60" r="1.7" fill="#2b83ba"/>
<rect x="229.00" y="203.90" width="54.80" height="81.70" fill="none" stroke="#333" stroke-width="0.8"/>
<path d="M227.50 283.20H229.00M227.50 264.50H229.00M227.50 245.80H229.00M227.50 227.10H229.00M227.50 208.40H229.00" stroke="#333" stroke-width="0.6" fill="none"/>
<text x="225.40" y="285.70" text-anchor="end" font-family="Liberation Sans, Arial, sans-serif" font-size="7" fill="#333">2</text>
<text x="225.40" y="267.00" text-anchor="end" font-family="Liberation Sans, Arial, sans-serif" font-size="7" fill="#333">4</text>
<text x="225.40" y="248.30" text-anchor="end" font-family="Liberation Sans, Arial, sans-serif" font-size="7" fill="#333">6</text>
<text x="225.40" y="229.60" text-anchor="end" font-family="Liberation Sans, Arial, sans-serif" font-size="7" fill="#333">8</text>
<text x="225.40" y="210.90" text-anchor="end" font-family="Liberation Sans, Arial, sans-serif" font-size="7" fill="#333">10</text>
<rect x="297.60" y="191.90" width="55.30" height="12.00" fill="#d9d9d9" stroke="#333" stroke-width="0.8"/>
<text x="325.25" y="200.30" text-anchor="middle" font-family="Liberation Sans, Arial, sans-serif" font-size="6.85" fill="#1a1a1a">BATF2</text>
<rect x="297.60" y="203.90" width="55.30" height="81.70" fill="#fff"/>
<path d="M297.60 259.30H352.90M297.60 233.20H352.90M297.60 207.10H352.90M307.20 203.90V285.60M344.80 203.90V285.60" stroke="#ebebeb" stroke-width="0.6" fill="none"/>
<path d="M307.20 207.20L344.80 229.70" stroke="#d7191c" stroke-width="0.9" fill="none"/>
<path d="M307.20 229.70L344.80 243.20" stroke="#d7191c" stroke-width="0.9" fill="none"/>
<path d="M307.20 231.50L344.80 254.00" stroke="#d7191c" stroke-width="0.9" fill="none"/>
<path d="M307.20 233.30L344.80 255.40" stroke="#d7191c" stroke-width="0.9" fill="none"/>
<path d="M307.20 234.90L344.80 278.80" stroke="#2b83ba" stroke-width="0.9" fill="none"/>
<path d="M307.20 237.20L344.80 256.80" stroke="#d7191c" stroke-width="0.9" fill="none"/>
<path d="M307.20 244.60L344.80 262.00" stroke="#d7191c" stroke-width="0.9" fill="none"/>
<path d="M307.20 248.00L344.80 271.60" stroke="#d7191c" stroke-width="0.9" fill="none"/>
<path d="M307.20 249.50L344.80 268.20" stroke="#2b83ba" stroke-width="0.9" fill="none"/>
<path d="M307.20 254.00L344.80 281.00" stroke="#2b83ba" stroke-width="0.9" fill="none"/>
<circle cx="307.20" cy="207.20" r="1.7" fill="#d7191c"/><circle cx="344.80" cy="229.70" r="1.7" fill="#d7191c"/>
<circle cx="307.20" cy="229.70" r="1.7" fill="#d7191c"/><circle cx="344.80" cy="243.20" r="1.7" fill="#d7191c"/>
<circle cx="307.20" cy="231.50" r="1.7" fill="#d7191c"/><circle cx="344.80" cy="254.00" r="1.7" fill="#d7191c"/>
<circle cx="307.20" cy="233.30" r="1.7" fill="#d7191c"/><circle cx="344.80" cy="255.40" r="1.7" fill="#d7191c"/>
<circle cx="307.20" cy="234.90" r="1.7" fill="#2b83ba"/><circle cx="344.80" cy="278.80" r="1.7" fill="#2b83ba"/>
<circle cx="307.20" cy="237.20" r="1.7" fill="#d7191c"/><circle cx="344.80" cy="256.80" r="1.7" fill="#d7191c"/>
<circle cx="307.20" cy="244.60" r="1.7" fill="#d7191c"/><circle cx="344.80" cy="262.00" r="1.7" fill="#d7191c"/>
<circle cx="307.20" cy="248.00" r="1.7" fill="#d7191c"/><circle cx="344.80" cy="271.60" r="1.7" fill="#d7191c"/>
<circle cx="307.20" cy="249.50" r="1.7" fill="#2b83ba"/><circle cx="344.80" cy="268.20" r="1.7" fill="#2b83ba"/>
<circle cx="307.20" cy="254.00" r="1.7" fill="#2b83ba"/><circle cx="344.80" cy="281.00" r="1.7" fill="#2b83ba"/>
<rect x="297.60" y="203.90" width="55.30" height="81.70" fill="none" stroke="#333" stroke-width="0.8"/>
<path d="M296.10 259.30H297.60M296.10 233.20H297.60M296.10 207.10H297.60" stroke="#333" stroke-width="0.6" fill="none"/>
<text x="294.00" y="261.80" text-anchor="end" font-family="Liberation Sans, Arial, sans-serif" font-size="7" fill="#333">6</text>
<text x="294.00" y="235.70" text-anchor="end" font-family="Liberation Sans, Arial, sans-serif" font-size="7" fill="#333">8</text>
<text x="294.00" y="209.60" text-anchor="end" font-family="Liberation Sans, Arial, sans-serif" font-size="7" fill="#333">10</text>
<rect x="229.00" y="289.60" width="54.80" height="12.80" fill="#d9d9d9" stroke="#333" stroke-width="0.8"/>
<text x="256.40" y="298.40" text-anchor="middle" font-family="Liberation Sans, Arial, sans-serif" font-size="6.85" fill="#1a1a1a">CXCL9</text>
<rect x="229.00" y="302.40" width="54.80" height="81.80" fill="#fff"/>
<path d="M229.00 378.42H283.80M229.00 354.28H283.80M229.00 330.14H283.80M229.00 306.00H283.80M237.40 302.40V384.20M275.20 302.40V384.20" stroke="#ebebeb" stroke-width="0.6" fill="none"/>
<path d="M237.40 305.20L275.20 329.70" stroke="#d7191c" stroke-width="0.9" fill="none"/>
<path d="M237.40 309.00L275.20 345.00" stroke="#d7191c" stroke-width="0.9" fill="none"/>
<path d="M237.40 310.00L275.20 341.00" stroke="#2b83ba" stroke-width="0.9" fill="none"/>
<path d="M237.40 315.10L275.20 337.80" stroke="#d7191c" stroke-width="0.9" fill="none"/>
<path d="M237.40 319.10L275.20 352.90" stroke="#d7191c" stroke-width="0.9" fill="none"/>
<path d="M237.40 323.20L275.20 362.60" stroke="#d7191c" stroke-width="0.9" fill="none"/>
<path d="M237.40 327.70L275.20 365.30" stroke="#2b83ba" stroke-width="0.9" fill="none"/>
<path d="M237.40 333.10L275.20 346.60" stroke="#d7191c" stroke-width="0.9" fill="none"/>
<path d="M237.40 339.40L275.20 370.50" stroke="#2b83ba" stroke-width="0.9" fill="none"/>
<path d="M237.40 378.80L275.20 380.00" stroke="#d7191c" stroke-width="0.9" fill="none"/>
<circle cx="237.40" cy="305.20" r="1.7" fill="#d7191c"/><circle cx="275.20" cy="329.70" r="1.7" fill="#d7191c"/>
<circle cx="237.40" cy="309.00" r="1.7" fill="#d7191c"/><circle cx="275.20" cy="345.00" r="1.7" fill="#d7191c"/>
<circle cx="237.40" cy="310.00" r="1.7" fill="#2b83ba"/><circle cx="275.20" cy="341.00" r="1.7" fill="#2b83ba"/>
<circle cx="237.40" cy="315.10" r="1.7" fill="#d7191c"/><circle cx="275.20" cy="337.80" r="1.7" fill="#d7191c"/>
<circle cx="237.40" cy="319.10" r="1.7" fill="#d7191c"/><circle cx="275.20" cy="352.90" r="1.7" fill="#d7191c"/>
<circle cx="237.40" cy="323.20" r="1.7" fill="#d7191c"/><circle cx="275.20" cy="362.60" r="1.7" fill="#d7191c"/>
<circle cx="237.40" cy="327.70" r="1.7" fill="#2b83ba"/><circle cx="275.20" cy="365.30" r="1.7" fill="#2b83ba"/>
<circle cx="237.40" cy="333.10" r="1.7" fill="#d7191c"/><circle cx="275.20" cy="346.60" r="1.7" fill="#d7191c"/>
<circle cx="237.40" cy="339.40" r="1.7" fill="#2b83ba"/><circle cx="275.20" cy="370.50" r="1.7" fill="#2b83ba"/>
<circle cx="237.40" cy="378.80" r="1.7" fill="#d7191c"/><circle cx="275.20" cy="380.00" r="1.7" fill="#d7191c"/>
<rect x="229.00" y="302.40" width="54.80" height="81.80" fill="none" stroke="#333" stroke-width="0.8"/>
<path d="M227.50 378.42H229.00M227.50 354.28H229.00M227.50 330.14H229.00M227.50 306.00H229.00" stroke="#333" stroke-width="0.6" fill="none"/>
<text x="225.40" y="380.92" text-anchor="end" font-family="Liberation Sans, Arial, sans-serif" font-size="7" fill="#333">8</text>
<text x="225.40" y="356.78" text-anchor="end" font-family="Liberation Sans, Arial, sans-serif" font-size="7" fill="#333">10</text>
<text x="225.40" y="332.64" text-anchor="end" font-family="Liberation Sans, Arial, sans-serif" font-size="7" fill="#333">12</text>
<text x="225.40" y="308.50" text-anchor="end" font-family="Liberation Sans, Arial, sans-serif" font-size="7" fill="#333">14</text>
<path d="M237.40 384.20V385.70M275.20 384.20V385.70" stroke="#333" stroke-width="0.6" fill="none"/>
<text x="237.40" y="392.40" text-anchor="middle" font-family="Liberation Sans, Arial, sans-serif" font-size="6.8" fill="#333">BT</text>
<text x="275.20" y="392.40" text-anchor="middle" font-family="Liberation Sans, Arial, sans-serif" font-size="6.8" fill="#333">AT</text>
<rect x="297.60" y="289.60" width="55.30" height="12.80" fill="#d9d9d9" stroke="#333" stroke-width="0.8"/>
<text x="325.25" y="298.40" text-anchor="middle" font-family="Liberation Sans, Arial, sans-serif" font-size="6.85" fill="#1a1a1a">IFNG</text>
<rect x="297.60" y="302.40" width="55.30" height="81.80" fill="#fff"/>
<path d="M297.60 379.80H352.90M297.60 362.08H352.90M297.60 344.36H352.90M297.60 326.64H352.90M297.60 308.92H352.90M307.50 302.40V384.20M344.80 302.40V384.20" stroke="#ebebeb" stroke-width="0.6" fill="none"/>
<path d="M307.50 306.00L344.80 333.90" stroke="#d7191c" stroke-width="0.9" fill="none"/>
<path d="M307.50 314.60L344.80 329.50" stroke="#d7191c" stroke-width="0.9" fill="none"/>
<path d="M307.50 316.00L344.80 331.60" stroke="#d7191c" stroke-width="0.9" fill="none"/>
<path d="M307.50 322.40L344.80 336.10" stroke="#d7191c" stroke-width="0.9" fill="none"/>
<path d="M307.50 323.20L344.80 341.00" stroke="#d7191c" stroke-width="0.9" fill="none"/>
<path d="M307.50 329.00L344.80 356.00" stroke="#2b83ba" stroke-width="0.9" fill="none"/>
<path d="M307.50 333.90L344.80 350.20" stroke="#2b83ba" stroke-width="0.9" fill="none"/>
<path d="M307.50 379.80L344.80 379.80" stroke="#d7191c" stroke-width="0.9" fill="none"/>
<circle cx="307.50" cy="306.00" r="1.7" fill="#d7191c"/><circle cx="344.80" cy="333.90" r="1.7" fill="#d7191c"/>
<circle cx="307.50" cy="314.60" r="1.7" fill="#d7191c"/><circle cx="344.80" cy="329.50" r="1.7" fill="#d7191c"/>
<circle cx="307.50" cy="316.00" r="1.7" fill="#d7191c"/><circle cx="344.80" cy="331.60" r="1.7" fill="#d7191c"/>
<circle cx="307.50" cy="322.40" r="1.7" fill="#d7191c"/><circle cx="344.80" cy="336.10" r="1.7" fill="#d7191c"/>
<circle cx="307.50" cy="323.20" r="1.7" fill="#d7191c"/><circle cx="344.80" cy="341.00" r="1.7" fill="#d7191c"/>
<circle cx="307.50" cy="329.00" r="1.7" fill="#2b83ba"/><circle cx="344.80" cy="356.00" r="1.7" fill="#2b83ba"/>
<circle cx="307.50" cy="333.90" r="1.7" fill="#2b83ba"/><circle cx="344.80" cy="350.20" r="1.7" fill="#2b83ba"/>
<circle cx="307.50" cy="379.80" r="1.7" fill="#d7191c"/><circle cx="344.80" cy="379.80" r="1.7" fill="#d7191c"/>
<rect x="297.60" y="302.40" width="55.30" height="81.80" fill="none" stroke="#333" stroke-width="0.8"/>
<path d="M296.10 379.80H297.60M296.10 362.08H297.60M296.10 344.36H297.60M296.10 326.64H297.60M296.10 308.92H297.60" stroke="#333" stroke-width="0.6" fill="none"/>
<text x="294.00" y="382.30" text-anchor="end" font-family="Liberation Sans, Arial, sans-serif" font-size="7" fill="#333">0</text>
<text x="294.00" y="364.58" text-anchor="end" font-family="Liberation Sans, Arial, sans-serif" font-size="7" fill="#333">2</text>
<text x="294.00" y="346.86" text-anchor="end" font-family="Liberation Sans, Arial, sans-serif" font-size="7" fill="#333">4</text>
<text x="294.00" y="329.14" text-anchor="end" font-family="Liberation Sans, Arial, sans-serif" font-size="7" fill="#333">6</text>
<text x="294.00" y="311.42" text-anchor="end" font-family="Liberation Sans, Arial, sans-serif" font-size="7" fill="#333">8</text>
<path d="M307.50 384.20V385.70M344.80 384.20V385.70" stroke="#333" stroke-width="0.6" fill="none"/>
<text x="307.50" y="392.40" text-anchor="middle" font-family="Liberation Sans, Arial, sans-serif" font-size="6.8" fill="#333">BT</text>
<text x="344.80" y="392.40" text-anchor="middle" font-family="Liberation Sans, Arial, sans-serif" font-size="6.8" fill="#333">AT</text>
<path d="M357.8 209.1H367.8" stroke="#2b83ba" stroke-width="0.9"/><circle cx="362.8" cy="209.1" r="1.7" fill="#2b83ba"/>
<path d="M357.8 218.1H367.8" stroke="#d7191c" stroke-width="0.9"/><circle cx="362.8" cy="218.1" r="1.7" fill="#d7191c"/>
<g font-family="Liberation Sans, Arial, sans-serif" font-size="7" fill="#222"><text x="369.2" y="211.6">R</text><text x="369.2" y="220.6">NR</text></g>
<text transform="translate(212.4 284.8) rotate(-90)" text-anchor="middle" font-family="Liberation Sans, Arial, sans-serif" font-weight="bold" font-size="8.2" fill="#111">Normalized log<tspan font-size="5" dy="1.6">2</tspan><tspan dy="-1.6"> counts</tspan></text></svg>
</body></html>
